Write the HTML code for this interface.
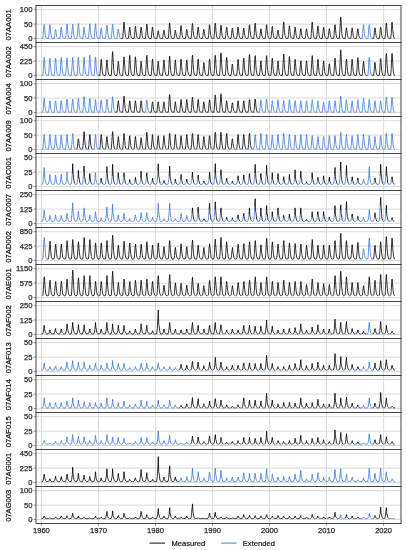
<!DOCTYPE html>
<html><head><meta charset="utf-8"><style>
html,body{margin:0;padding:0;background:#fff;}
svg{display:block;}
.t{font-family:"Liberation Sans",Arial,sans-serif;font-size:7.6px;fill:#2A2A2A;stroke:#2A2A2A;stroke-width:0.25px;}
.s{font-family:"Liberation Sans",Arial,sans-serif;font-size:7.6px;fill:#1A1A1A;stroke:#1A1A1A;stroke-width:0.25px;}
.l{font-family:"Liberation Sans",Arial,sans-serif;font-size:7.6px;fill:#111;stroke:#111;stroke-width:0.2px;}
</style></head><body>
<svg width="407" height="550" viewBox="0 0 407 550">
<rect width="407" height="550" fill="#fff"/>
<path d="M41.40 5.50V42.50M98.43 5.50V42.50M155.46 5.50V42.50M212.49 5.50V42.50M269.52 5.50V42.50M326.55 5.50V42.50M383.58 5.50V42.50M36.00 38.50H401.00M36.00 24.10H401.00M36.00 9.70H401.00" stroke="#D6D6D6" stroke-width="0.9" fill="none"/>
<path d="M41.4 38.4 42.8 38.3 43.3 34.2 43.7 27.9 44.0 24.9 44.3 24.4 44.5 26.3 44.8 30.7 45.3 34.9 45.8 37.4 46.5 38.3 47.1 38.4 48.5 38.3 49.0 34.3 49.4 28.1 49.7 25.2 50.0 24.7 50.2 26.6 50.5 30.8 51.0 34.9 51.6 37.4 52.2 38.3 52.8 38.4 54.2 38.3 54.7 35.7 55.1 31.8 55.4 29.9 55.7 29.6 55.9 30.8 56.2 33.5 56.7 36.2 57.3 37.7 57.9 38.3 58.5 38.4 59.9 38.3 60.4 34.9 60.8 29.8 61.1 27.4 61.4 27.0 61.6 28.6 61.9 32.1 62.4 35.5 63.0 37.6 63.6 38.3 64.2 38.4 65.6 38.3 66.1 34.1 66.6 27.7 66.8 24.7 67.1 24.1 67.3 26.1 67.6 30.5 68.1 34.8 68.7 37.4 69.3 38.3 69.9 38.4 71.3 38.3 71.8 34.1 72.3 27.7 72.5 24.7 72.8 24.1 73.0 26.1 73.3 30.5 73.8 34.8 74.4 37.4 75.0 38.3 75.6 38.4 77.0 38.3 77.5 33.9 78.0 27.2 78.2 24.1 78.5 23.5 78.7 25.6 79.0 30.2 79.5 34.6 80.1 37.3 80.8 38.3 81.3 38.4 82.7 38.3 83.2 34.9 83.7 29.8 83.9 27.4 84.2 27.0 84.4 28.6 84.7 32.1 85.2 35.5 85.8 37.6 86.5 38.3 87.0 38.4 88.4 38.3 88.9 34.0 89.4 27.4 89.6 24.4 89.9 23.8 90.1 25.8 90.4 30.4 90.9 34.7 91.5 37.3 92.2 38.3 92.7 38.4 94.2 38.3 94.6 34.0 95.1 27.4 95.4 24.4 95.6 23.8 95.8 25.8 96.1 30.4 96.6 34.7 97.2 37.3 97.9 38.3 98.4 38.4 99.9 38.3 100.3 35.2 100.8 30.5 101.1 28.3 101.3 27.8 101.5 29.3 101.9 32.6 102.3 35.7 102.9 37.6 103.6 38.3 104.1 38.4 105.6 38.3 106.0 34.3 106.5 28.3 106.8 25.5 107.0 25.0 107.2 26.8 107.6 31.0 108.0 35.0 108.6 37.4 109.3 38.3 109.8 38.4 111.3 38.3 111.7 34.1 112.2 27.7 112.5 24.7 112.7 24.1 112.9 26.1 113.3 30.5 113.7 34.8 114.3 37.4 115.0 38.3 115.5 38.4 117.0 38.3 117.4 35.5 117.9 31.3 118.2 29.4 118.4 29.0 118.6 30.3 119.0 33.2 119.4 36.0 120.0 37.7 120.7 38.3 121.2 38.4M125.7 37.2 126.4 38.3 126.9 38.4M360.8 38.4 362.2 38.3 362.6 34.3 363.1 28.1 363.4 25.2 363.6 24.7 363.8 26.6 364.2 30.8 364.6 34.9 365.2 37.4 365.9 38.3 366.5 38.4 367.9 38.3 368.4 34.3 368.8 28.1 369.1 25.2 369.3 24.7 369.6 26.6 369.9 30.8 370.3 34.9 370.9 37.4 371.6 38.3 372.2 38.4" stroke="#3C78D8" stroke-width="0.8" fill="none" stroke-linejoin="round"/>
<path d="M121.2 38.4 122.7 38.3 123.1 33.5 123.6 26.2 123.9 22.7 124.1 22.1 124.3 24.4 124.7 29.4 125.1 34.3 125.7 37.2M126.9 38.4 128.4 38.3 128.8 34.9 129.3 29.8 129.6 27.4 129.8 27.0 130.0 28.6 130.4 32.1 130.8 35.5 131.4 37.6 132.1 38.3 132.6 38.4 134.1 38.3 134.5 34.8 135.0 29.4 135.3 26.9 135.5 26.4 135.7 28.1 136.1 31.8 136.5 35.4 137.1 37.5 137.8 38.3 138.4 38.4 139.8 38.3 140.2 34.9 140.7 29.8 141.0 27.4 141.2 27.0 141.4 28.6 141.8 32.1 142.2 35.5 142.8 37.6 143.5 38.3 144.1 38.4 145.5 38.3 145.9 34.1 146.4 27.7 146.7 24.7 146.9 24.1 147.1 26.1 147.5 30.5 147.9 34.8 148.5 37.4 149.2 38.3 149.8 38.4 151.2 38.3 151.6 34.9 152.1 29.8 152.4 27.4 152.6 27.0 152.8 28.6 153.2 32.1 153.6 35.5 154.2 37.6 154.9 38.3 155.5 38.4 156.9 38.3 157.3 36.1 157.8 32.6 158.1 31.0 158.3 30.7 158.5 31.8 158.9 34.2 159.3 36.4 159.9 37.8 160.6 38.3 161.2 38.4 162.6 38.3 163.0 35.9 163.5 32.2 163.8 30.5 164.0 30.1 164.2 31.3 164.6 33.8 165.0 36.3 165.6 37.8 166.3 38.3 166.9 38.4 168.3 38.3 168.7 33.7 169.2 26.8 169.5 23.6 169.7 22.9 169.9 25.1 170.3 29.9 170.7 34.5 171.3 37.3 172.0 38.3 172.6 38.4 174.0 38.3 174.5 35.9 174.9 32.2 175.2 30.5 175.4 30.1 175.6 31.3 176.0 33.8 176.4 36.3 177.0 37.8 177.7 38.3 178.3 38.4 179.7 38.3 180.2 34.5 180.6 28.7 180.9 26.1 181.1 25.5 181.4 27.3 181.7 31.3 182.2 35.2 182.7 37.5 183.4 38.3 184.0 38.4 185.4 38.3 185.9 35.6 186.3 31.6 186.6 29.6 186.8 29.3 187.1 30.6 187.4 33.4 187.9 36.1 188.4 37.7 189.1 38.3 189.7 38.4 191.1 38.3 191.6 33.9 192.0 27.2 192.3 24.1 192.5 23.5 192.8 25.6 193.1 30.2 193.6 34.6 194.1 37.3 194.8 38.3 195.4 38.4 196.8 38.3 197.3 34.9 197.7 29.8 198.0 27.4 198.2 27.0 198.5 28.6 198.8 32.1 199.3 35.5 199.8 37.6 200.5 38.3 201.1 38.4 202.5 38.3 203.0 35.6 203.4 31.6 203.7 29.6 203.9 29.3 204.2 30.6 204.5 33.4 205.0 36.1 205.5 37.7 206.2 38.3 206.8 38.4 208.2 38.3 208.7 34.3 209.1 28.1 209.4 25.2 209.6 24.7 209.9 26.6 210.2 30.8 210.7 34.9 211.2 37.4 211.9 38.3 212.5 38.4 213.9 38.3 214.4 33.8 214.8 27.0 215.1 23.8 215.3 23.2 215.6 25.4 215.9 30.0 216.4 34.6 216.9 37.3 217.6 38.3 218.2 38.4 219.6 38.3 220.1 34.3 220.5 28.3 220.8 25.5 221.0 25.0 221.3 26.8 221.6 31.0 222.1 35.0 222.6 37.4 223.3 38.3 223.9 38.4 225.3 38.3 225.8 34.9 226.2 29.8 226.5 27.4 226.7 27.0 227.0 28.6 227.3 32.1 227.8 35.5 228.3 37.6 229.0 38.3 229.6 38.4 231.0 38.3 231.5 35.3 231.9 30.7 232.2 28.5 232.5 28.1 232.7 29.6 233.0 32.7 233.5 35.8 234.0 37.6 234.7 38.3 235.3 38.4 236.7 38.3 237.2 34.9 237.6 29.8 237.9 27.4 238.2 27.0 238.4 28.6 238.7 32.1 239.2 35.5 239.8 37.6 240.4 38.3 241.0 38.4 242.4 38.3 242.9 35.3 243.3 30.7 243.6 28.5 243.9 28.1 244.1 29.6 244.4 32.7 244.9 35.8 245.5 37.6 246.1 38.3 246.7 38.4 248.1 38.3 248.6 34.3 249.0 28.1 249.3 25.2 249.6 24.7 249.8 26.6 250.1 30.8 250.6 34.9 251.2 37.4 251.8 38.3 252.4 38.4 253.8 38.3 254.3 33.8 254.7 27.0 255.0 23.8 255.3 23.2 255.5 25.4 255.8 30.0 256.3 34.6 256.9 37.3 257.5 38.3 258.1 38.4 259.5 38.3 260.0 35.5 260.5 31.1 260.7 29.1 261.0 28.7 261.2 30.1 261.5 33.0 262.0 35.9 262.6 37.7 263.2 38.3 263.8 38.4 265.2 38.3 265.7 34.3 266.2 28.1 266.4 25.2 266.7 24.7 266.9 26.6 267.2 30.8 267.7 34.9 268.3 37.4 268.9 38.3 269.5 38.4 270.9 38.3 271.4 34.8 271.9 29.4 272.1 26.9 272.4 26.4 272.6 28.1 272.9 31.8 273.4 35.4 274.0 37.5 274.7 38.3 275.2 38.4 276.6 38.3 277.1 35.9 277.6 32.2 277.8 30.5 278.1 30.1 278.3 31.3 278.6 33.8 279.1 36.3 279.7 37.8 280.4 38.3 280.9 38.4 282.4 38.3 282.8 33.4 283.3 25.9 283.5 22.5 283.8 21.8 284.0 24.1 284.3 29.2 284.8 34.2 285.4 37.2 286.1 38.3 286.6 38.4 288.1 38.3 288.5 34.6 289.0 29.0 289.3 26.3 289.5 25.8 289.7 27.6 290.1 31.5 290.5 35.2 291.1 37.5 291.8 38.3 292.3 38.4 293.8 38.3 294.2 34.9 294.7 29.8 295.0 27.4 295.2 27.0 295.4 28.6 295.8 32.1 296.2 35.5 296.8 37.6 297.5 38.3 298.0 38.4 299.5 38.3 299.9 35.5 300.4 31.1 300.7 29.1 300.9 28.7 301.1 30.1 301.5 33.0 301.9 35.9 302.5 37.7 303.2 38.3 303.7 38.4 305.2 38.3 305.6 35.5 306.1 31.1 306.4 29.1 306.6 28.7 306.8 30.1 307.2 33.0 307.6 35.9 308.2 37.7 308.9 38.3 309.4 38.4 310.9 38.3 311.3 33.5 311.8 26.2 312.1 22.7 312.3 22.1 312.5 24.4 312.9 29.4 313.3 34.3 313.9 37.2 314.6 38.3 315.1 38.4 316.6 38.3 317.0 34.6 317.5 29.0 317.8 26.3 318.0 25.8 318.2 27.6 318.6 31.5 319.0 35.2 319.6 37.5 320.3 38.3 320.8 38.4 322.3 38.3 322.7 34.9 323.2 29.8 323.5 27.4 323.7 27.0 323.9 28.6 324.3 32.1 324.7 35.5 325.3 37.6 326.0 38.3 326.6 38.4 328.0 38.3 328.4 35.5 328.9 31.1 329.2 29.1 329.4 28.7 329.6 30.1 330.0 33.0 330.4 35.9 331.0 37.7 331.7 38.3 332.3 38.4 333.7 38.3 334.1 34.3 334.6 28.1 334.9 25.2 335.1 24.7 335.3 26.6 335.7 30.8 336.1 34.9 336.7 37.4 337.4 38.3 338.0 38.4 339.4 38.3 339.8 31.9 340.3 22.3 340.6 17.8 340.8 16.9 341.0 19.9 341.4 26.6 341.8 33.0 342.4 36.9 343.1 38.3 343.7 38.4 345.1 38.3 345.5 35.2 346.0 30.5 346.3 28.3 346.5 27.8 346.7 29.3 347.1 32.6 347.5 35.7 348.1 37.6 348.8 38.3 349.4 38.4 350.8 38.3 351.2 35.2 351.7 30.5 352.0 28.3 352.2 27.8 352.4 29.3 352.8 32.6 353.2 35.7 353.8 37.6 354.5 38.3 355.1 38.4 356.5 38.3 356.9 35.5 357.4 31.1 357.7 29.1 357.9 28.7 358.1 30.1 358.5 33.0 358.9 35.9 359.5 37.7 360.2 38.3 360.8 38.4M372.2 38.4 373.6 38.3 374.1 35.2 374.5 30.5 374.8 28.3 375.0 27.8 375.3 29.3 375.6 32.6 376.1 35.7 376.6 37.6 377.3 38.3 377.9 38.4 379.3 38.3 379.8 34.9 380.2 29.8 380.5 27.4 380.7 27.0 381.0 28.6 381.3 32.1 381.8 35.5 382.3 37.6 383.0 38.3 383.6 38.4 385.0 38.3 385.5 33.8 385.9 27.0 386.2 23.8 386.4 23.2 386.7 25.4 387.0 30.0 387.5 34.6 388.0 37.3 388.7 38.3 389.3 38.4 390.7 38.3 391.2 33.5 391.6 26.2 391.9 22.7 392.1 22.1 392.4 24.4 392.7 29.4 393.2 34.3 393.7 37.2 394.4 38.3 395.0 38.4" stroke="#000000" stroke-width="0.8" fill="none" stroke-linejoin="round"/>
<path d="M33.80 38.50H36.00" stroke="#333" stroke-width="0.55"/>
<text x="32.40" y="41.10" text-anchor="end" class="t">0</text>
<path d="M33.80 24.10H36.00" stroke="#333" stroke-width="0.55"/>
<text x="32.40" y="26.70" text-anchor="end" class="t">50</text>
<path d="M33.80 9.70H36.00" stroke="#333" stroke-width="0.55"/>
<text x="32.40" y="12.30" text-anchor="end" class="t">100</text>
<text transform="translate(10.8 24.80) rotate(-90)" text-anchor="middle" class="s">07AA001</text>
<path d="M41.40 42.50V79.50M98.43 42.50V79.50M155.46 42.50V79.50M212.49 42.50V79.50M269.52 42.50V79.50M326.55 42.50V79.50M383.58 42.50V79.50M36.00 75.50H401.00M36.00 61.10H401.00M36.00 46.70H401.00" stroke="#D6D6D6" stroke-width="0.9" fill="none"/>
<path d="M41.4 75.4 42.8 75.3 43.3 70.0 43.7 61.9 44.0 58.1 44.3 57.4 44.5 59.9 44.8 65.5 45.3 70.9 45.8 74.1 46.5 75.3 47.1 75.4 48.5 75.3 49.0 70.2 49.4 62.5 49.7 58.9 50.0 58.2 50.2 60.6 50.5 65.9 51.0 71.1 51.6 74.2 52.2 75.3 52.8 75.4 54.2 75.3 54.7 70.2 55.1 62.5 55.4 58.9 55.7 58.2 55.9 60.6 56.2 65.9 56.7 71.1 57.3 74.2 57.9 75.3 58.5 75.4 59.9 75.3 60.4 70.0 60.8 61.9 61.1 58.1 61.4 57.4 61.6 59.9 61.9 65.5 62.4 70.9 63.0 74.1 63.6 75.3 64.2 75.4 65.6 75.3 66.1 70.1 66.6 62.3 66.8 58.6 67.1 57.9 67.3 60.4 67.6 65.8 68.1 71.0 68.7 74.1 69.3 75.3 69.9 75.4 71.3 75.3 71.8 70.0 72.3 61.9 72.5 58.1 72.8 57.4 73.0 59.9 73.3 65.5 73.8 70.9 74.4 74.1 75.0 75.3 75.6 75.4 77.0 75.3 77.5 70.0 78.0 61.9 78.2 58.1 78.5 57.4 78.7 59.9 79.0 65.5 79.5 70.9 80.1 74.1 80.8 75.3 81.3 75.4 82.7 75.3 83.2 70.0 83.7 61.9 83.9 58.1 84.2 57.4 84.4 59.9 84.7 65.5 85.2 70.9 85.8 74.1 86.5 75.3 87.0 75.4 88.4 75.3 88.9 69.3 89.4 60.1 89.6 55.9 89.9 55.1 90.1 57.9 90.4 64.2 90.9 70.3 91.5 73.9 92.2 75.3 92.7 75.4 94.2 75.3 94.6 70.0 95.1 61.9 95.4 58.1 95.6 57.4 95.8 59.9 96.1 65.5 96.6 70.9 97.2 74.1 97.9 75.3 98.4 75.4M366.5 75.4 367.9 75.3 368.4 70.0 368.8 61.9 369.1 58.1 369.3 57.4 369.6 59.9 369.9 65.5 370.3 70.9 370.9 74.1 371.6 75.3 372.2 75.4" stroke="#3C78D8" stroke-width="0.8" fill="none" stroke-linejoin="round"/>
<path d="M98.4 75.4 99.9 75.3 100.3 70.6 100.8 63.4 101.1 60.0 101.3 59.4 101.5 61.6 101.9 66.6 102.3 71.4 102.9 74.2 103.6 75.3 104.1 75.4 105.6 75.3 106.0 70.7 106.5 63.8 106.8 60.6 107.0 59.9 107.2 62.1 107.6 66.9 108.0 71.5 108.6 74.3 109.3 75.3 109.8 75.4 111.3 75.3 111.7 68.2 112.2 57.5 112.5 52.5 112.7 51.6 112.9 54.9 113.3 62.3 113.7 69.4 114.3 73.7 115.0 75.3 115.5 75.4 117.0 75.3 117.4 71.2 117.9 64.9 118.2 61.9 118.4 61.4 118.6 63.3 119.0 67.7 119.4 71.9 120.0 74.4 120.7 75.3 121.2 75.4 122.7 75.3 123.1 69.8 123.6 61.4 123.9 57.5 124.1 56.8 124.3 59.4 124.7 65.1 125.1 70.7 125.7 74.1 126.4 75.3 126.9 75.4 128.4 75.3 128.8 69.4 129.3 60.3 129.6 56.1 129.8 55.3 130.0 58.1 130.4 64.3 130.8 70.4 131.4 74.0 132.1 75.3 132.6 75.4 134.1 75.3 134.5 69.8 135.0 61.4 135.3 57.5 135.5 56.8 135.7 59.4 136.1 65.1 136.5 70.7 137.1 74.1 137.8 75.3 138.4 75.4 139.8 75.3 140.2 71.2 140.7 64.9 141.0 61.9 141.2 61.4 141.4 63.3 141.8 67.7 142.2 71.9 142.8 74.4 143.5 75.3 144.1 75.4 145.5 75.3 145.9 69.4 146.4 60.3 146.7 56.1 146.9 55.3 147.1 58.1 147.5 64.3 147.9 70.4 148.5 74.0 149.2 75.3 149.8 75.4 151.2 75.3 151.6 70.5 152.1 63.2 152.4 59.7 152.6 59.1 152.8 61.4 153.2 66.4 153.6 71.3 154.2 74.2 154.9 75.3 155.5 75.4 156.9 75.3 157.3 71.2 157.8 64.9 158.1 61.9 158.3 61.4 158.5 63.3 158.9 67.7 159.3 71.9 159.9 74.4 160.6 75.3 161.2 75.4 162.6 75.3 163.0 70.7 163.5 63.8 163.8 60.6 164.0 59.9 164.2 62.1 164.6 66.9 165.0 71.5 165.6 74.3 166.3 75.3 166.9 75.4 168.3 75.3 168.7 69.6 169.2 61.0 169.5 57.0 169.7 56.2 169.9 58.9 170.3 64.8 170.7 70.6 171.3 74.0 172.0 75.3 172.6 75.4 174.0 75.3 174.5 70.7 174.9 63.8 175.2 60.6 175.4 59.9 175.6 62.1 176.0 66.9 176.4 71.5 177.0 74.3 177.7 75.3 178.3 75.4 179.7 75.3 180.2 70.5 180.6 63.2 180.9 59.7 181.1 59.1 181.4 61.4 181.7 66.4 182.2 71.3 182.7 74.2 183.4 75.3 184.0 75.4 185.4 75.3 185.9 70.7 186.3 63.8 186.6 60.6 186.8 59.9 187.1 62.1 187.4 66.9 187.9 71.5 188.4 74.3 189.1 75.3 189.7 75.4 191.1 75.3 191.6 69.4 192.0 60.3 192.3 56.1 192.5 55.3 192.8 58.1 193.1 64.3 193.6 70.4 194.1 74.0 194.8 75.3 195.4 75.4 196.8 75.3 197.3 70.5 197.7 63.2 198.0 59.7 198.2 59.1 198.5 61.4 198.8 66.4 199.3 71.3 199.8 74.2 200.5 75.3 201.1 75.4 202.5 75.3 203.0 71.5 203.4 65.7 203.7 63.1 203.9 62.5 204.2 64.3 204.5 68.3 205.0 72.2 205.5 74.5 206.2 75.3 206.8 75.4 208.2 75.3 208.7 70.5 209.1 63.2 209.4 59.7 209.6 59.1 209.9 61.4 210.2 66.4 210.7 71.3 211.2 74.2 211.9 75.3 212.5 75.4 213.9 75.3 214.4 69.4 214.8 60.3 215.1 56.1 215.3 55.3 215.6 58.1 215.9 64.3 216.4 70.4 216.9 74.0 217.6 75.3 218.2 75.4 219.6 75.3 220.1 68.7 220.5 58.6 220.8 53.9 221.0 53.0 221.3 56.2 221.6 63.1 222.1 69.8 222.6 73.8 223.3 75.3 223.9 75.4 225.3 75.3 225.8 70.0 226.2 61.9 226.5 58.1 226.7 57.4 227.0 59.9 227.3 65.5 227.8 70.9 228.3 74.1 229.0 75.3 229.6 75.4 231.0 75.3 231.5 71.9 231.9 66.8 232.2 64.4 232.5 64.0 232.7 65.6 233.0 69.1 233.5 72.5 234.0 74.6 234.7 75.3 235.3 75.4 236.7 75.3 237.2 70.6 237.6 63.4 237.9 60.0 238.2 59.4 238.4 61.6 238.7 66.6 239.2 71.4 239.8 74.2 240.4 75.3 241.0 75.4 242.4 75.3 242.9 70.2 243.3 62.5 243.6 58.9 243.9 58.2 244.1 60.6 244.4 65.9 244.9 71.1 245.5 74.2 246.1 75.3 246.7 75.4 248.1 75.3 248.6 69.1 249.0 59.7 249.3 55.3 249.6 54.5 249.8 57.4 250.1 63.9 250.6 70.1 251.2 73.9 251.8 75.3 252.4 75.4 253.8 75.3 254.3 69.4 254.7 60.6 255.0 56.4 255.3 55.6 255.5 58.4 255.8 64.5 256.3 70.4 256.9 74.0 257.5 75.3 258.1 75.4 259.5 75.3 260.0 71.0 260.5 64.4 260.7 61.4 261.0 60.8 261.2 62.8 261.5 67.4 262.0 71.7 262.6 74.3 263.2 75.3 263.8 75.4 265.2 75.3 265.7 69.4 266.2 60.6 266.4 56.4 266.7 55.6 266.9 58.4 267.2 64.5 267.7 70.4 268.3 74.0 268.9 75.3 269.5 75.4 270.9 75.3 271.4 70.2 271.9 62.5 272.1 58.9 272.4 58.2 272.6 60.6 272.9 65.9 273.4 71.1 274.0 74.2 274.7 75.3 275.2 75.4 276.6 75.3 277.1 71.0 277.6 64.4 277.8 61.4 278.1 60.8 278.3 62.8 278.6 67.4 279.1 71.7 279.7 74.3 280.4 75.3 280.9 75.4 282.4 75.3 282.8 69.0 283.3 59.5 283.5 55.0 283.8 54.2 284.0 57.2 284.3 63.7 284.8 70.1 285.4 73.9 286.1 75.3 286.6 75.4 288.1 75.3 288.5 69.7 289.0 61.2 289.3 57.2 289.5 56.5 289.7 59.1 290.1 65.0 290.5 70.6 291.1 74.0 291.8 75.3 292.3 75.4 293.8 75.3 294.2 70.6 294.7 63.4 295.0 60.0 295.2 59.4 295.4 61.6 295.8 66.6 296.2 71.4 296.8 74.2 297.5 75.3 298.0 75.4 299.5 75.3 299.9 71.0 300.4 64.4 300.7 61.4 300.9 60.8 301.1 62.8 301.5 67.4 301.9 71.7 302.5 74.3 303.2 75.3 303.7 75.4 305.2 75.3 305.6 71.0 306.1 64.4 306.4 61.4 306.6 60.8 306.8 62.8 307.2 67.4 307.6 71.7 308.2 74.3 308.9 75.3 309.4 75.4 310.9 75.3 311.3 69.4 311.8 60.6 312.1 56.4 312.3 55.6 312.5 58.4 312.9 64.5 313.3 70.4 313.9 74.0 314.6 75.3 315.1 75.4 316.6 75.3 317.0 70.6 317.5 63.4 317.8 60.0 318.0 59.4 318.2 61.6 318.6 66.6 319.0 71.4 319.6 74.2 320.3 75.3 320.8 75.4 322.3 75.3 322.7 71.0 323.2 64.4 323.5 61.4 323.7 60.8 323.9 62.8 324.3 67.4 324.7 71.7 325.3 74.3 326.0 75.3 326.6 75.4 328.0 75.3 328.4 71.9 328.9 66.6 329.2 64.2 329.4 63.7 329.6 65.3 330.0 68.9 330.4 72.4 331.0 74.5 331.7 75.3 332.3 75.4 333.7 75.3 334.1 70.2 334.6 62.5 334.9 58.9 335.1 58.2 335.3 60.6 335.7 65.9 336.1 71.1 336.7 74.2 337.4 75.3 338.0 75.4 339.4 75.3 339.8 67.7 340.3 56.2 340.6 50.9 340.8 49.9 341.0 53.4 341.4 61.3 341.8 69.0 342.4 73.6 343.1 75.3 343.7 75.4 345.1 75.3 345.5 70.5 346.0 63.2 346.3 59.7 346.5 59.1 346.7 61.4 347.1 66.4 347.5 71.3 348.1 74.2 348.8 75.3 349.4 75.4 350.8 75.3 351.2 70.5 351.7 63.2 352.0 59.7 352.2 59.1 352.4 61.4 352.8 66.4 353.2 71.3 353.8 74.2 354.5 75.3 355.1 75.4 356.5 75.3 356.9 70.0 357.4 62.1 357.7 58.4 357.9 57.6 358.1 60.1 358.5 65.6 358.9 70.9 359.5 74.1 360.2 75.3 360.8 75.4 362.2 75.3 362.6 71.2 363.1 64.9 363.4 61.9 363.6 61.4 363.8 63.3 364.2 67.7 364.6 71.9 365.2 74.4 365.9 75.3 366.5 75.4M372.2 75.4 373.6 75.3 374.1 71.4 374.5 65.5 374.8 62.8 375.0 62.3 375.3 64.1 375.6 68.1 376.1 72.1 376.6 74.4 377.3 75.3 377.9 75.4 379.3 75.3 379.8 70.3 380.2 62.7 380.5 59.2 380.7 58.5 381.0 60.9 381.3 66.1 381.8 71.1 382.3 74.2 383.0 75.3 383.6 75.4 385.0 75.3 385.5 68.7 385.9 58.8 386.2 54.2 386.4 53.3 386.7 56.4 387.0 63.2 387.5 69.8 388.0 73.8 388.7 75.3 389.3 75.4 390.7 75.3 391.2 68.7 391.6 58.8 391.9 54.2 392.1 53.3 392.4 56.4 392.7 63.2 393.2 69.8 393.7 73.8 394.4 75.3 395.0 75.4" stroke="#000000" stroke-width="0.8" fill="none" stroke-linejoin="round"/>
<path d="M33.80 75.50H36.00" stroke="#333" stroke-width="0.55"/>
<text x="32.40" y="78.10" text-anchor="end" class="t">0</text>
<path d="M33.80 61.10H36.00" stroke="#333" stroke-width="0.55"/>
<text x="32.40" y="63.70" text-anchor="end" class="t">225</text>
<path d="M33.80 46.70H36.00" stroke="#333" stroke-width="0.55"/>
<text x="32.40" y="49.30" text-anchor="end" class="t">450</text>
<text transform="translate(10.8 61.80) rotate(-90)" text-anchor="middle" class="s">07AA002</text>
<path d="M41.40 79.50V116.50M98.43 79.50V116.50M155.46 79.50V116.50M212.49 79.50V116.50M269.52 79.50V116.50M326.55 79.50V116.50M383.58 79.50V116.50M36.00 112.50H401.00M36.00 98.10H401.00M36.00 83.70H401.00" stroke="#D6D6D6" stroke-width="0.9" fill="none"/>
<path d="M41.4 112.2 42.8 112.1 43.3 108.1 43.7 101.8 44.0 98.9 44.3 98.4 44.5 100.3 44.8 104.6 45.3 108.8 45.8 111.2 46.5 112.1 47.1 112.2 48.5 112.1 49.0 108.8 49.4 103.6 49.7 101.2 50.0 100.7 50.2 102.3 50.5 105.9 51.0 109.3 51.6 111.4 52.2 112.1 52.8 112.2 54.2 112.1 54.7 108.8 55.1 103.6 55.4 101.2 55.7 100.7 55.9 102.3 56.2 105.9 56.7 109.3 57.3 111.4 57.9 112.1 58.5 112.2 59.9 112.1 60.4 108.8 60.8 103.6 61.1 101.2 61.4 100.7 61.6 102.3 61.9 105.9 62.4 109.3 63.0 111.4 63.6 112.1 64.2 112.2 65.6 112.1 66.1 108.2 66.6 102.3 66.8 99.5 67.1 99.0 67.3 100.8 67.6 104.9 68.1 108.9 68.7 111.3 69.3 112.1 69.9 112.2 71.3 112.1 71.8 108.2 72.3 102.3 72.5 99.5 72.8 99.0 73.0 100.8 73.3 104.9 73.8 108.9 74.4 111.3 75.0 112.1 75.6 112.2 77.0 112.1 77.5 108.1 78.0 101.8 78.2 98.9 78.5 98.4 78.7 100.3 79.0 104.6 79.5 108.8 80.1 111.2 80.8 112.1 81.3 112.2 82.7 112.1 83.2 107.5 83.7 100.5 83.9 97.3 84.2 96.7 84.4 98.8 84.7 103.7 85.2 108.3 85.8 111.1 86.5 112.1 87.0 112.2 88.4 112.1 88.9 108.1 89.4 101.8 89.6 98.9 89.9 98.4 90.1 100.3 90.4 104.6 90.9 108.8 91.5 111.2 92.2 112.1 92.7 112.2 94.2 112.1 94.6 108.4 95.1 102.7 95.4 100.0 95.6 99.5 95.8 101.3 96.1 105.2 96.6 109.0 97.2 111.3 97.9 112.1 98.4 112.2 99.9 112.1 100.3 108.5 100.8 102.9 101.1 100.3 101.3 99.8 101.5 101.6 101.9 105.4 102.3 109.1 102.9 111.3 103.6 112.1 104.1 112.2 105.6 112.1 106.0 108.2 106.5 102.3 106.8 99.5 107.0 99.0 107.2 100.8 107.6 104.9 108.0 108.9 108.6 111.3 109.3 112.1 109.8 112.2 111.3 112.1 111.7 107.5 112.2 100.5 112.5 97.3 112.7 96.7 112.9 98.8 113.3 103.7 113.7 108.3 114.3 111.1 115.0 112.1 115.5 112.2M144.1 112.2 145.5 112.1 145.9 108.5 146.4 102.9 146.7 100.3 146.9 99.8 147.1 101.6 147.5 105.4 147.9 109.1 148.5 111.3 149.2 112.1 149.8 112.2M258.1 112.2 259.5 112.1 260.0 108.5 260.5 102.9 260.7 100.3 261.0 99.8 261.2 101.6 261.5 105.4 262.0 109.1 262.6 111.3 263.2 112.1 263.8 112.2 265.2 112.1 265.7 108.2 266.2 102.3 266.4 99.5 266.7 99.0 266.9 100.8 267.2 104.9 267.7 108.9 268.3 111.3 268.9 112.1 269.5 112.2 270.9 112.1 271.4 108.8 271.9 103.6 272.1 101.2 272.4 100.7 272.6 102.3 272.9 105.9 273.4 109.3 274.0 111.4 274.7 112.1 275.2 112.2 276.6 112.1 277.1 108.5 277.6 102.9 277.8 100.3 278.1 99.8 278.3 101.6 278.6 105.4 279.1 109.1 279.7 111.3 280.4 112.1 280.9 112.2 282.4 112.1 282.8 108.8 283.3 103.6 283.5 101.2 283.8 100.7 284.0 102.3 284.3 105.9 284.8 109.3 285.4 111.4 286.1 112.1 286.6 112.2 288.1 112.1 288.5 108.5 289.0 102.9 289.3 100.3 289.5 99.8 289.7 101.6 290.1 105.4 290.5 109.1 291.1 111.3 291.8 112.1 292.3 112.2 293.8 112.1 294.2 108.8 294.7 103.6 295.0 101.2 295.2 100.7 295.4 102.3 295.8 105.9 296.2 109.3 296.8 111.4 297.5 112.1 298.0 112.2 299.5 112.1 299.9 108.8 300.4 103.6 300.7 101.2 300.9 100.7 301.1 102.3 301.5 105.9 301.9 109.3 302.5 111.4 303.2 112.1 303.7 112.2 305.2 112.1 305.6 108.8 306.1 103.6 306.4 101.2 306.6 100.7 306.8 102.3 307.2 105.9 307.6 109.3 308.2 111.4 308.9 112.1 309.4 112.2 310.9 112.1 311.3 108.5 311.8 102.9 312.1 100.3 312.3 99.8 312.5 101.6 312.9 105.4 313.3 109.1 313.9 111.3 314.6 112.1 315.1 112.2 316.6 112.1 317.0 108.8 317.5 103.6 317.8 101.2 318.0 100.7 318.2 102.3 318.6 105.9 319.0 109.3 319.6 111.4 320.3 112.1 320.8 112.2 322.3 112.1 322.7 109.1 323.2 104.4 323.5 102.3 323.7 101.8 323.9 103.3 324.3 106.5 324.7 109.6 325.3 111.5 326.0 112.1 326.6 112.2 328.0 112.1 328.4 108.8 328.9 103.6 329.2 101.2 329.4 100.7 329.6 102.3 330.0 105.9 330.4 109.3 331.0 111.4 331.7 112.1 332.3 112.2 333.7 112.1 334.1 108.8 334.6 103.6 334.9 101.2 335.1 100.7 335.3 102.3 335.7 105.9 336.1 109.3 336.7 111.4 337.4 112.1 338.0 112.2 339.4 112.1 339.8 107.4 340.3 100.1 340.6 96.7 340.8 96.1 341.0 98.3 341.4 103.3 341.8 108.2 342.4 111.1 343.1 112.1 343.7 112.2 345.1 112.1 345.5 108.5 346.0 102.9 346.3 100.3 346.5 99.8 346.7 101.6 347.1 105.4 347.5 109.1 348.1 111.3 348.8 112.1 349.4 112.2 350.8 112.1 351.2 108.8 351.7 103.6 352.0 101.2 352.2 100.7 352.4 102.3 352.8 105.9 353.2 109.3 353.8 111.4 354.5 112.1 355.1 112.2 356.5 112.1 356.9 108.5 357.4 102.9 357.7 100.3 357.9 99.8 358.1 101.6 358.5 105.4 358.9 109.1 359.5 111.3 360.2 112.1 360.8 112.2 362.2 112.1 362.6 108.1 363.1 101.8 363.4 98.9 363.6 98.4 363.8 100.3 364.2 104.6 364.6 108.8 365.2 111.2 365.9 112.1 366.5 112.2 367.9 112.1 368.4 108.4 368.8 102.7 369.1 100.0 369.3 99.5 369.6 101.3 369.9 105.2 370.3 109.0 370.9 111.3 371.6 112.1 372.2 112.2 373.6 112.1 374.1 108.8 374.5 103.6 374.8 101.2 375.0 100.7 375.3 102.3 375.6 105.9 376.1 109.3 376.6 111.4 377.3 112.1 377.9 112.2 379.3 112.1 379.8 108.8 380.2 103.6 380.5 101.2 380.7 100.7 381.0 102.3 381.3 105.9 381.8 109.3 382.3 111.4 383.0 112.1 383.6 112.2 385.0 112.1 385.5 107.7 385.9 101.0 386.2 97.8 386.4 97.2 386.7 99.3 387.0 104.0 387.5 108.5 388.0 111.2 388.7 112.1 389.3 112.2 390.7 112.1 391.2 107.7 391.6 101.0 391.9 97.8 392.1 97.2 392.4 99.3 392.7 104.0 393.2 108.5 393.7 111.2 394.4 112.1 395.0 112.2" stroke="#3C78D8" stroke-width="0.8" fill="none" stroke-linejoin="round"/>
<path d="M115.5 112.2 117.0 112.1 117.4 108.8 117.9 103.6 118.2 101.2 118.4 100.7 118.6 102.3 119.0 105.9 119.4 109.3 120.0 111.4 120.7 112.1 121.2 112.2 122.7 112.1 123.1 107.4 123.6 100.1 123.9 96.7 124.1 96.1 124.3 98.3 124.7 103.3 125.1 108.2 125.7 111.1 126.4 112.1 126.9 112.2 128.4 112.1 128.8 108.8 129.3 103.6 129.6 101.2 129.8 100.7 130.0 102.3 130.4 105.9 130.8 109.3 131.4 111.4 132.1 112.1 132.6 112.2 134.1 112.1 134.5 108.8 135.0 103.6 135.3 101.2 135.5 100.7 135.7 102.3 136.1 105.9 136.5 109.3 137.1 111.4 137.8 112.1 138.4 112.2 139.8 112.1 140.2 108.8 140.7 103.6 141.0 101.2 141.2 100.7 141.4 102.3 141.8 105.9 142.2 109.3 142.8 111.4 143.5 112.1 144.1 112.2M149.8 112.2 151.2 112.1 151.6 109.1 152.1 104.4 152.4 102.3 152.6 101.8 152.8 103.3 153.2 106.5 153.6 109.6 154.2 111.5 154.9 112.1 155.5 112.2 156.9 112.1 157.3 109.1 157.8 104.4 158.1 102.3 158.3 101.8 158.5 103.3 158.9 106.5 159.3 109.6 159.9 111.5 160.6 112.1 161.2 112.2 162.6 112.1 163.0 109.1 163.5 104.4 163.8 102.3 164.0 101.8 164.2 103.3 164.6 106.5 165.0 109.6 165.6 111.5 166.3 112.1 166.9 112.2 168.3 112.1 168.7 106.9 169.2 98.8 169.5 95.1 169.7 94.4 169.9 96.9 170.3 102.4 170.7 107.7 171.3 111.0 172.0 112.1 172.6 112.2 174.0 112.1 174.5 109.1 174.9 104.4 175.2 102.3 175.4 101.8 175.6 103.3 176.0 106.5 176.4 109.6 177.0 111.5 177.7 112.1 178.3 112.2 179.7 112.1 180.2 108.4 180.6 102.7 180.9 100.0 181.1 99.5 181.4 101.3 181.7 105.2 182.2 109.0 182.7 111.3 183.4 112.1 184.0 112.2 185.4 112.1 185.9 108.4 186.3 102.7 186.6 100.0 186.8 99.5 187.1 101.3 187.4 105.2 187.9 109.0 188.4 111.3 189.1 112.1 189.7 112.2 191.1 112.1 191.6 107.7 192.0 101.0 192.3 97.8 192.5 97.2 192.8 99.3 193.1 104.0 193.6 108.5 194.1 111.2 194.8 112.1 195.4 112.2 196.8 112.1 197.3 108.4 197.7 102.7 198.0 100.0 198.2 99.5 198.5 101.3 198.8 105.2 199.3 109.0 199.8 111.3 200.5 112.1 201.1 112.2 202.5 112.1 203.0 109.1 203.4 104.4 203.7 102.3 203.9 101.8 204.2 103.3 204.5 106.5 205.0 109.6 205.5 111.5 206.2 112.1 206.8 112.2 208.2 112.1 208.7 108.5 209.1 102.9 209.4 100.3 209.6 99.8 209.9 101.6 210.2 105.4 210.7 109.1 211.2 111.3 211.9 112.1 212.5 112.2 213.9 112.1 214.4 107.0 214.8 99.3 215.1 95.6 215.3 94.9 215.6 97.4 215.9 102.7 216.4 107.9 216.9 111.0 217.6 112.1 218.2 112.2 219.6 112.1 220.1 106.7 220.5 98.4 220.8 94.5 221.0 93.8 221.3 96.4 221.6 102.1 222.1 107.6 222.6 110.9 223.3 112.1 223.9 112.2 225.3 112.1 225.8 108.8 226.2 103.6 226.5 101.2 226.7 100.7 227.0 102.3 227.3 105.9 227.8 109.3 228.3 111.4 229.0 112.1 229.6 112.2 231.0 112.1 231.5 109.4 231.9 105.1 232.2 103.1 232.5 102.7 232.7 104.0 233.0 107.0 233.5 109.8 234.0 111.5 234.7 112.1 235.3 112.2 236.7 112.1 237.2 108.8 237.6 103.6 237.9 101.2 238.2 100.7 238.4 102.3 238.7 105.9 239.2 109.3 239.8 111.4 240.4 112.1 241.0 112.2 242.4 112.1 242.9 108.8 243.3 103.6 243.6 101.2 243.9 100.7 244.1 102.3 244.4 105.9 244.9 109.3 245.5 111.4 246.1 112.1 246.7 112.2 248.1 112.1 248.6 108.4 249.0 102.7 249.3 100.0 249.6 99.5 249.8 101.3 250.1 105.2 250.6 109.0 251.2 111.3 251.8 112.1 252.4 112.2 253.8 112.1 254.3 108.2 254.7 102.3 255.0 99.5 255.3 99.0 255.5 100.8 255.8 104.9 256.3 108.9 256.9 111.3 257.5 112.1 258.1 112.2" stroke="#000000" stroke-width="0.8" fill="none" stroke-linejoin="round"/>
<path d="M33.80 112.50H36.00" stroke="#333" stroke-width="0.55"/>
<text x="32.40" y="115.10" text-anchor="end" class="t">0</text>
<path d="M33.80 98.10H36.00" stroke="#333" stroke-width="0.55"/>
<text x="32.40" y="100.70" text-anchor="end" class="t">50</text>
<path d="M33.80 83.70H36.00" stroke="#333" stroke-width="0.55"/>
<text x="32.40" y="86.30" text-anchor="end" class="t">100</text>
<text transform="translate(10.8 98.80) rotate(-90)" text-anchor="middle" class="s">07AA004</text>
<path d="M41.40 116.50V153.50M98.43 116.50V153.50M155.46 116.50V153.50M212.49 116.50V153.50M269.52 116.50V153.50M326.55 116.50V153.50M383.58 116.50V153.50M36.00 149.50H401.00M36.00 135.10H401.00M36.00 120.70H401.00" stroke="#D6D6D6" stroke-width="0.9" fill="none"/>
<path d="M41.4 149.2 42.8 149.1 43.3 144.8 43.7 138.2 44.0 135.1 44.3 134.5 44.5 136.6 44.8 141.1 45.3 145.5 45.8 148.2 46.5 149.1 47.1 149.2 48.5 149.1 49.0 144.8 49.4 138.2 49.7 135.1 50.0 134.5 50.2 136.6 50.5 141.1 51.0 145.5 51.6 148.2 52.2 149.1 52.8 149.2 54.2 149.1 54.7 145.0 55.1 138.6 55.4 135.7 55.7 135.1 55.9 137.1 56.2 141.5 56.7 145.7 57.3 148.2 57.9 149.1 58.5 149.2 59.9 149.1 60.4 145.0 60.8 138.6 61.1 135.7 61.4 135.1 61.6 137.1 61.9 141.5 62.4 145.7 63.0 148.2 63.6 149.1 64.2 149.2 65.6 149.1 66.1 144.8 66.6 138.2 66.8 135.1 67.1 134.5 67.3 136.6 67.6 141.1 68.1 145.5 68.7 148.2 69.3 149.1 69.9 149.2 71.3 149.1 71.8 144.5 72.3 137.3 72.5 134.0 72.8 133.4 73.0 135.6 73.3 140.5 73.8 145.3 74.4 148.1 75.0 149.1 75.6 149.2 77.0 149.1M80.8 149.1 81.3 149.2 82.7 149.1M86.5 149.1 87.0 149.2 88.4 149.1M92.2 149.1 92.7 149.2 94.2 149.1 94.6 144.8 95.1 138.2 95.4 135.1 95.6 134.5 95.8 136.6 96.1 141.1 96.6 145.5 97.2 148.2 97.9 149.1 98.4 149.2 99.9 149.1M103.6 149.1 104.1 149.2 105.6 149.1M109.3 149.1 109.8 149.2 111.3 149.1M115.0 149.1 115.5 149.2 117.0 149.1M120.7 149.1 121.2 149.2 122.7 149.1M126.4 149.1 126.9 149.2 128.4 149.1M132.1 149.1 132.6 149.2 134.1 149.1M137.8 149.1 138.4 149.2 139.8 149.1M143.5 149.1 144.1 149.2 145.5 149.1M149.2 149.1 149.8 149.2 151.2 149.1M154.9 149.1 155.5 149.2 156.9 149.1M160.6 149.1 161.2 149.2 162.6 149.1M166.3 149.1 166.9 149.2 168.3 149.1M172.0 149.1 172.6 149.2 174.0 149.1M177.7 149.1 178.3 149.2 179.7 149.1M183.4 149.1 184.0 149.2 185.4 149.1M189.1 149.1 189.7 149.2 191.1 149.1M194.8 149.1 195.4 149.2 196.8 149.1M200.5 149.1 201.1 149.2 202.5 149.1M206.2 149.1 206.8 149.2 208.2 149.1M211.9 149.1 212.5 149.2 213.9 149.1M217.6 149.1 218.2 149.2 219.6 149.1M223.3 149.1 223.9 149.2 225.3 149.1M229.0 149.1 229.6 149.2 231.0 149.1M234.7 149.1 235.3 149.2 236.7 149.1M240.4 149.1 241.0 149.2 242.4 149.1M246.1 149.1 246.7 149.2 248.1 149.1M251.8 149.1 252.4 149.2 253.8 149.1 254.3 144.8 254.7 138.2 255.0 135.1 255.3 134.5 255.5 136.6 255.8 141.1 256.3 145.5 256.9 148.2 257.5 149.1 258.1 149.2 259.5 149.1 260.0 144.5 260.5 137.3 260.7 134.0 261.0 133.4 261.2 135.6 261.5 140.5 262.0 145.3 262.6 148.1 263.2 149.1 263.8 149.2 265.2 149.1 265.7 144.8 266.2 138.2 266.4 135.1 266.7 134.5 266.9 136.6 267.2 141.1 267.7 145.5 268.3 148.2 268.9 149.1 269.5 149.2 270.9 149.1 271.4 145.0 271.9 138.6 272.1 135.7 272.4 135.1 272.6 137.1 272.9 141.5 273.4 145.7 274.0 148.2 274.7 149.1 275.2 149.2 276.6 149.1 277.1 144.8 277.6 138.2 277.8 135.1 278.1 134.5 278.3 136.6 278.6 141.1 279.1 145.5 279.7 148.2 280.4 149.1 280.9 149.2 282.4 149.1 282.8 144.5 283.3 137.3 283.5 134.0 283.8 133.4 284.0 135.6 284.3 140.5 284.8 145.3 285.4 148.1 286.1 149.1 286.6 149.2 288.1 149.1 288.5 144.8 289.0 138.2 289.3 135.1 289.5 134.5 289.7 136.6 290.1 141.1 290.5 145.5 291.1 148.2 291.8 149.1 292.3 149.2 293.8 149.1 294.2 145.0 294.7 138.6 295.0 135.7 295.2 135.1 295.4 137.1 295.8 141.5 296.2 145.7 296.8 148.2 297.5 149.1 298.0 149.2 299.5 149.1 299.9 144.8 300.4 138.2 300.7 135.1 300.9 134.5 301.1 136.6 301.5 141.1 301.9 145.5 302.5 148.2 303.2 149.1 303.7 149.2 305.2 149.1 305.6 144.8 306.1 138.2 306.4 135.1 306.6 134.5 306.8 136.6 307.2 141.1 307.6 145.5 308.2 148.2 308.9 149.1 309.4 149.2 310.9 149.1 311.3 145.2 311.8 139.1 312.1 136.2 312.3 135.7 312.5 137.6 312.9 141.8 313.3 145.8 313.9 148.3 314.6 149.1 315.1 149.2 316.6 149.1 317.0 145.4 317.5 139.7 317.8 137.0 318.0 136.5 318.2 138.3 318.6 142.2 319.0 146.0 319.6 148.3 320.3 149.1 320.8 149.2 322.3 149.1 322.7 145.4 323.2 139.7 323.5 137.0 323.7 136.5 323.9 138.3 324.3 142.2 324.7 146.0 325.3 148.3 326.0 149.1 326.6 149.2 328.0 149.1 328.4 145.2 328.9 139.1 329.2 136.2 329.4 135.7 329.6 137.6 330.0 141.8 330.4 145.8 331.0 148.3 331.7 149.1 332.3 149.2 333.7 149.1 334.1 145.2 334.6 139.1 334.9 136.2 335.1 135.7 335.3 137.6 335.7 141.8 336.1 145.8 336.7 148.3 337.4 149.1 338.0 149.2 339.4 149.1 339.8 144.1 340.3 136.5 340.6 132.9 340.8 132.2 341.0 134.6 341.4 139.9 341.8 145.0 342.4 148.0 343.1 149.1 343.7 149.2 345.1 149.1 345.5 144.8 346.0 138.2 346.3 135.1 346.5 134.5 346.7 136.6 347.1 141.1 347.5 145.5 348.1 148.2 348.8 149.1 349.4 149.2 350.8 149.1 351.2 145.2 351.7 139.1 352.0 136.2 352.2 135.7 352.4 137.6 352.8 141.8 353.2 145.8 353.8 148.3 354.5 149.1 355.1 149.2 356.5 149.1 356.9 144.8 357.4 138.2 357.7 135.1 357.9 134.5 358.1 136.6 358.5 141.1 358.9 145.5 359.5 148.2 360.2 149.1 360.8 149.2 362.2 149.1 362.6 144.8 363.1 138.2 363.4 135.1 363.6 134.5 363.8 136.6 364.2 141.1 364.6 145.5 365.2 148.2 365.9 149.1 366.5 149.2 367.9 149.1 368.4 145.2 368.8 139.1 369.1 136.2 369.3 135.7 369.6 137.6 369.9 141.8 370.3 145.8 370.9 148.3 371.6 149.1 372.2 149.2 373.6 149.1 374.1 145.4 374.5 139.7 374.8 137.0 375.0 136.5 375.3 138.3 375.6 142.2 376.1 146.0 376.6 148.3 377.3 149.1 377.9 149.2 379.3 149.1 379.8 145.2 380.2 139.1 380.5 136.2 380.7 135.7 381.0 137.6 381.3 141.8 381.8 145.8 382.3 148.3 383.0 149.1 383.6 149.2 385.0 149.1 385.5 144.5 385.9 137.3 386.2 134.0 386.4 133.4 386.7 135.6 387.0 140.5 387.5 145.3 388.0 148.1 388.7 149.1 389.3 149.2 390.7 149.1 391.2 144.5 391.6 137.3 391.9 134.0 392.1 133.4 392.4 135.6 392.7 140.5 393.2 145.3 393.7 148.1 394.4 149.1 395.0 149.2" stroke="#3C78D8" stroke-width="0.8" fill="none" stroke-linejoin="round"/>
<path d="M77.0 149.1 77.5 146.1 78.0 141.4 78.2 139.3 78.5 138.8 78.7 140.3 79.0 143.5 79.5 146.6 80.1 148.5 80.8 149.1M82.7 149.1 83.2 143.9 83.7 136.0 83.9 132.3 84.2 131.6 84.4 134.1 84.7 139.5 85.2 144.8 85.8 148.0 86.5 149.1M88.4 149.1 88.9 144.8 89.4 138.2 89.6 135.1 89.9 134.5 90.1 136.6 90.4 141.1 90.9 145.5 91.5 148.2 92.2 149.1M99.9 149.1 100.3 144.8 100.8 138.2 101.1 135.1 101.3 134.5 101.5 136.6 101.9 141.1 102.3 145.5 102.9 148.2 103.6 149.1M105.6 149.1 106.0 145.4 106.5 139.7 106.8 137.0 107.0 136.5 107.2 138.3 107.6 142.2 108.0 146.0 108.6 148.3 109.3 149.1M111.3 149.1 111.7 143.9 112.2 136.0 112.5 132.3 112.7 131.6 112.9 134.1 113.3 139.5 113.7 144.8 114.3 148.0 115.0 149.1M117.0 149.1 117.4 145.4 117.9 139.7 118.2 137.0 118.4 136.5 118.6 138.3 119.0 142.2 119.4 146.0 120.0 148.3 120.7 149.1M122.7 149.1 123.1 144.5 123.6 137.3 123.9 134.0 124.1 133.4 124.3 135.6 124.7 140.5 125.1 145.3 125.7 148.1 126.4 149.1M128.4 149.1 128.8 145.2 129.3 139.1 129.6 136.2 129.8 135.7 130.0 137.6 130.4 141.8 130.8 145.8 131.4 148.3 132.1 149.1M134.1 149.1 134.5 145.4 135.0 139.7 135.3 137.0 135.5 136.5 135.7 138.3 136.1 142.2 136.5 146.0 137.1 148.3 137.8 149.1M139.8 149.1 140.2 145.8 140.7 140.6 141.0 138.2 141.2 137.7 141.4 139.3 141.8 142.9 142.2 146.3 142.8 148.4 143.5 149.1M145.5 149.1 145.9 144.1 146.4 136.5 146.7 132.9 146.9 132.2 147.1 134.6 147.5 139.9 147.9 145.0 148.5 148.0 149.2 149.1M151.2 149.1 151.6 144.8 152.1 138.2 152.4 135.1 152.6 134.5 152.8 136.6 153.2 141.1 153.6 145.5 154.2 148.2 154.9 149.1M156.9 149.1 157.3 145.2 157.8 139.1 158.1 136.2 158.3 135.7 158.5 137.6 158.9 141.8 159.3 145.8 159.9 148.3 160.6 149.1M162.6 149.1 163.0 145.2 163.5 139.1 163.8 136.2 164.0 135.7 164.2 137.6 164.6 141.8 165.0 145.8 165.6 148.3 166.3 149.1M168.3 149.1 168.7 144.5 169.2 137.3 169.5 134.0 169.7 133.4 169.9 135.6 170.3 140.5 170.7 145.3 171.3 148.1 172.0 149.1M174.0 149.1 174.5 144.8 174.9 138.2 175.2 135.1 175.4 134.5 175.6 136.6 176.0 141.1 176.4 145.5 177.0 148.2 177.7 149.1M179.7 149.1 180.2 145.2 180.6 139.1 180.9 136.2 181.1 135.7 181.4 137.6 181.7 141.8 182.2 145.8 182.7 148.3 183.4 149.1M185.4 149.1 185.9 144.8 186.3 138.2 186.6 135.1 186.8 134.5 187.1 136.6 187.4 141.1 187.9 145.5 188.4 148.2 189.1 149.1M191.1 149.1 191.6 144.5 192.0 137.3 192.3 134.0 192.5 133.4 192.8 135.6 193.1 140.5 193.6 145.3 194.1 148.1 194.8 149.1M196.8 149.1 197.3 144.8 197.7 138.2 198.0 135.1 198.2 134.5 198.5 136.6 198.8 141.1 199.3 145.5 199.8 148.2 200.5 149.1M202.5 149.1 203.0 145.4 203.4 139.7 203.7 137.0 203.9 136.5 204.2 138.3 204.5 142.2 205.0 146.0 205.5 148.3 206.2 149.1M208.2 149.1 208.7 145.2 209.1 139.1 209.4 136.2 209.6 135.7 209.9 137.6 210.2 141.8 210.7 145.8 211.2 148.3 211.9 149.1M213.9 149.1 214.4 144.1 214.8 136.5 215.1 132.9 215.3 132.2 215.6 134.6 215.9 139.9 216.4 145.0 216.9 148.0 217.6 149.1M219.6 149.1 220.1 144.1 220.5 136.5 220.8 132.9 221.0 132.2 221.3 134.6 221.6 139.9 222.1 145.0 222.6 148.0 223.3 149.1M225.3 149.1 225.8 144.5 226.2 137.3 226.5 134.0 226.7 133.4 227.0 135.6 227.3 140.5 227.8 145.3 228.3 148.1 229.0 149.1M231.0 149.1 231.5 146.1 231.9 141.4 232.2 139.3 232.5 138.8 232.7 140.3 233.0 143.5 233.5 146.6 234.0 148.5 234.7 149.1M236.7 149.1 237.2 144.8 237.6 138.2 237.9 135.1 238.2 134.5 238.4 136.6 238.7 141.1 239.2 145.5 239.8 148.2 240.4 149.1M242.4 149.1 242.9 144.8 243.3 138.2 243.6 135.1 243.9 134.5 244.1 136.6 244.4 141.1 244.9 145.5 245.5 148.2 246.1 149.1M248.1 149.1 248.6 144.5 249.0 137.3 249.3 134.0 249.6 133.4 249.8 135.6 250.1 140.5 250.6 145.3 251.2 148.1 251.8 149.1" stroke="#000000" stroke-width="0.8" fill="none" stroke-linejoin="round"/>
<path d="M33.80 149.50H36.00" stroke="#333" stroke-width="0.55"/>
<text x="32.40" y="152.10" text-anchor="end" class="t">0</text>
<path d="M33.80 135.10H36.00" stroke="#333" stroke-width="0.55"/>
<text x="32.40" y="137.70" text-anchor="end" class="t">50</text>
<path d="M33.80 120.70H36.00" stroke="#333" stroke-width="0.55"/>
<text x="32.40" y="123.30" text-anchor="end" class="t">100</text>
<text transform="translate(10.8 135.80) rotate(-90)" text-anchor="middle" class="s">07AA009</text>
<path d="M41.40 153.50V190.50M98.43 153.50V190.50M155.46 153.50V190.50M212.49 153.50V190.50M269.52 153.50V190.50M326.55 153.50V190.50M383.58 153.50V190.50M36.00 186.50H401.00M36.00 172.10H401.00M36.00 157.70H401.00" stroke="#D6D6D6" stroke-width="0.9" fill="none"/>
<path d="M41.4 184.5 42.7 184.0 43.2 180.3 43.7 173.4 44.2 167.5 44.6 175.0 45.0 179.3 45.5 182.2 46.1 183.5 46.6 184.5 47.1 184.5 48.4 184.0 48.9 182.2 49.4 180.3 49.9 174.4 50.3 180.3 50.7 180.3 51.2 183.3 51.8 183.9 52.3 184.5 52.8 184.5 54.1 184.0 54.6 182.7 55.1 178.9 55.6 175.0 56.0 178.9 56.4 181.0 56.9 183.1 57.5 184.1 58.1 184.5 58.5 184.5 59.8 184.0 60.3 182.3 60.8 178.6 61.3 174.4 61.7 179.7 62.1 181.0 62.6 182.9 63.2 184.0 63.8 184.5 64.2 184.5 65.5 184.0 66.0 182.4 66.6 177.4 67.0 172.1 67.4 179.5 67.8 179.9 68.3 182.3 68.9 183.8 69.5 184.5 69.9 184.5 71.2 184.0 71.7 180.9 72.3 173.6M74.6 183.6 75.2 184.5 75.6 184.5 76.9 184.0 77.4 181.2 78.0 178.5M80.3 183.7 80.9 184.5 81.3 184.5 82.6 184.0 83.1 180.0 83.7 171.8M86.0 183.6 86.6 184.5 87.0 184.5 88.3 184.0 88.8 182.7 89.4 179.5M91.7 184.1 92.3 184.5 92.7 184.5 94.0 184.0 94.6 181.8 95.1 178.8 95.5 172.7 95.9 179.8 96.3 180.1 96.8 182.5 97.4 183.9 98.0 184.5 98.4 184.5 99.7 184.0 100.3 183.2 100.8 180.9M103.1 184.1 103.7 184.5 104.1 184.5 105.4 184.0 106.0 180.3 106.5 172.7M108.8 183.5 109.4 184.5 109.8 184.5 111.1 184.0 111.7 180.3 112.2 176.0M114.5 183.5 115.1 184.5 115.5 184.5 116.8 184.0 117.4 182.6 117.9 177.7M120.2 184.0 120.8 184.5 121.2 184.5 122.5 184.0 123.1 182.0 123.6 176.5M125.9 183.8 126.5 184.5 126.9 184.5 128.2 184.0 128.8 183.6 129.3 182.2M131.6 184.3 132.2 184.5 132.6 184.5 133.9 184.0 134.5 183.2 135.0 181.0M137.3 184.2 137.9 184.5 138.4 184.5 139.6 184.0 140.2 181.8 140.7 178.2M143.0 183.8 143.6 184.5 144.1 184.5 145.3 184.0 145.9 182.6 146.4 176.7M148.7 183.8 149.3 184.5 149.8 184.5 151.0 184.0 151.6 183.2 152.1 181.2M154.4 184.1 155.0 184.5 155.5 184.5 156.7 184.0 157.3 180.8 157.8 170.8M160.1 183.2 160.7 184.5 161.2 184.5 162.4 184.0 163.0 183.7 163.5 182.8M165.8 184.3 166.4 184.5 166.9 184.5 168.1 184.0 168.7 180.1 169.2 176.7M171.5 183.7 172.1 184.5 172.6 184.5 173.8 184.0 174.4 183.3 174.9 181.2M177.2 184.2 177.8 184.5 178.3 184.5 179.5 184.0 180.1 182.5 180.6 179.3M182.9 184.1 183.5 184.5 184.0 184.5 185.2 184.0 185.8 183.5 186.3 181.8M188.7 184.2 189.2 184.5 189.7 184.5 190.9 184.0 191.5 181.4 192.0 177.3M194.4 183.8 194.9 184.5 195.4 184.5 196.6 184.0 197.2 182.9 197.7 178.1M200.1 184.1 200.6 184.5 201.1 184.5 202.3 184.0 202.9 183.9 203.4 182.3M205.8 184.3 206.3 184.5 206.8 184.5 208.0 184.0 208.6 182.3 209.1 179.3M211.5 184.0 212.0 184.5 212.5 184.5 213.7 184.0 214.3 180.8 214.8 172.5M217.2 183.6 217.7 184.5 218.2 184.5 219.4 184.0 220.0 182.3 220.5 175.6M222.9 183.8 223.4 184.5 223.9 184.5 225.2 184.0 225.7 183.1 226.2 181.4M228.6 184.1 229.1 184.5 229.6 184.5 230.9 184.0 231.4 183.6 231.9 182.6M234.3 184.3 234.8 184.5 235.3 184.5 236.6 184.0 237.1 182.4 237.6 179.8M240.0 184.1 240.5 184.5 241.0 184.5 242.3 184.0 242.8 182.6 243.3 179.9M245.7 184.1 246.3 184.5 246.7 184.5 248.0 184.0 248.5 181.9 249.0 177.5M251.4 183.8 252.0 184.5 252.4 184.5 253.7 184.0 254.2 179.8 254.7 173.2M257.1 183.7 257.7 184.5 258.1 184.5 259.4 184.0 259.9 182.8 260.5 178.4M262.8 183.9 263.4 184.5 263.8 184.5 265.1 184.0 265.6 179.8 266.2 175.1M268.5 183.4 269.1 184.5 269.5 184.5 270.8 184.0 271.3 182.2 271.9 179.1M274.2 183.8 274.8 184.5 275.2 184.5 276.5 184.0 277.0 182.5 277.6 179.2M279.9 184.0 280.5 184.5 280.9 184.5 282.2 184.0 282.8 183.2 283.3 180.4M285.6 184.2 286.2 184.5 286.6 184.5 287.9 184.0 288.5 182.4 289.0 179.8M291.3 184.1 291.9 184.5 292.3 184.5 293.6 184.0 294.2 181.9 294.7 178.3M297.0 183.7 297.6 184.5 298.0 184.5 299.3 184.0 299.9 181.5 300.4 178.2M302.7 183.9 303.3 184.5 303.7 184.5 305.0 184.0 305.6 184.0 306.1 182.7M308.4 184.4 309.0 184.5 309.4 184.5 310.7 184.0 311.3 182.4 311.8 177.3M314.1 184.0 314.7 184.5 315.1 184.5 316.4 184.0 317.0 183.1 317.5 180.0M319.8 184.1 320.4 184.5 320.8 184.5 322.1 184.0 322.7 183.0 323.2 179.7M325.5 184.1 326.1 184.5 326.6 184.5 327.8 184.0 328.4 182.8 328.9 181.3M331.2 184.1 331.8 184.5 332.3 184.5 333.5 184.0 334.1 180.7 334.6 174.2M336.9 183.6 337.5 184.5 338.0 184.5 339.2 184.0 339.8 179.0 340.3 170.9M342.6 183.2 343.2 184.5 343.7 184.5 344.9 184.0 345.5 181.0 346.0 175.4M348.3 183.4 348.9 184.5 349.4 184.5 350.6 184.0 351.2 182.7 351.7 181.1M354.0 184.2 354.6 184.5 355.1 184.5 356.3 184.0 356.9 183.1 357.4 180.2M359.7 184.2 360.3 184.5 360.8 184.5 362.0 184.0 362.6 183.6 363.1 182.1 363.6 179.0 364.0 181.9 364.4 182.1 364.9 183.6 365.4 184.2 366.0 184.5 366.5 184.5 367.7 184.0 368.3 180.1 368.8 175.7 369.3 166.6 369.7 177.2 370.1 179.4 370.6 182.4 371.1 183.4 371.7 184.5 372.2 184.5 373.4 184.0 374.0 183.1 374.5 180.0M376.9 184.2 377.4 184.5 377.9 184.5 379.1 184.0 379.7 181.1 380.2 175.7M382.6 183.6 383.1 184.5 383.6 184.5 384.8 184.0 385.4 180.7 385.9 175.9M388.3 183.7 388.8 184.5 389.3 184.5 390.5 184.0 391.1 182.6 391.6 179.2M394.0 184.0 394.5 184.5 395.0 184.5" stroke="#3C78D8" stroke-width="0.8" fill="none" stroke-linejoin="round"/>
<path d="M72.3 173.6 72.7 163.7 73.1 171.9 73.5 177.8 74.0 180.6 74.6 183.6M78.0 178.5 78.4 170.4 78.8 176.8 79.2 178.8 79.7 182.3 80.3 183.7M83.7 171.8 84.1 166.1 84.5 176.7 84.9 178.0 85.4 182.4 86.0 183.6M89.4 179.5 89.8 173.5 90.2 178.7 90.6 181.4 91.1 183.1 91.7 184.1M100.8 180.9 101.2 178.1 101.6 181.0 102.0 182.5 102.5 183.4 103.1 184.1M106.5 172.7 106.9 166.6 107.3 174.0 107.7 178.2 108.2 181.8 108.8 183.5M112.2 176.0 112.6 164.3 113.0 172.3 113.4 178.5 113.9 181.5 114.5 183.5M117.9 177.7 118.3 172.7 118.7 178.3 119.1 179.7 119.6 182.6 120.2 184.0M123.6 176.5 124.0 172.7 124.4 178.2 124.8 179.6 125.3 183.1 125.9 183.8M129.3 182.2 129.7 179.6 130.1 182.2 130.5 183.0 131.1 183.9 131.6 184.3M135.0 181.0 135.4 177.3 135.8 180.3 136.2 182.5 136.8 183.6 137.3 184.2M140.7 178.2 141.1 171.2 141.5 177.8 141.9 180.5 142.5 182.8 143.0 183.8M146.4 176.7 146.8 172.7 147.2 178.4 147.6 180.6 148.2 182.7 148.7 183.8M152.1 181.2 152.6 178.1 153.0 181.8 153.3 182.4 153.9 183.4 154.4 184.1M157.8 170.8 158.3 163.7 158.7 176.0 159.1 177.7 159.6 180.9 160.1 183.2M163.5 182.8 164.0 180.5 164.4 182.4 164.8 183.1 165.3 184.0 165.8 184.3M169.2 176.7 169.7 166.1 170.1 176.8 170.5 179.1 171.0 181.3 171.5 183.7M174.9 181.2 175.4 179.0 175.8 182.4 176.2 182.6 176.7 183.8 177.2 184.2M180.6 179.3 181.1 174.4 181.5 178.7 181.9 180.4 182.4 183.3 182.9 184.1M186.3 181.8 186.8 179.0 187.2 181.8 187.6 182.6 188.1 183.5 188.7 184.2M192.0 177.3 192.5 172.1 192.9 179.1 193.3 180.0 193.8 182.9 194.4 183.8M197.7 178.1 198.2 175.0 198.6 180.2 199.0 180.5 199.5 183.3 200.1 184.1M203.4 182.3 203.9 181.0 204.3 182.5 204.7 183.1 205.2 183.9 205.8 184.3M209.1 179.3 209.6 172.1 210.0 177.0 210.4 181.0 210.9 182.4 211.5 184.0M214.8 172.5 215.3 163.7 215.7 175.8 216.1 178.8 216.6 180.8 217.2 183.6M220.5 175.6 221.0 169.8 221.4 175.3 221.8 179.2 222.3 182.8 222.9 183.8M226.2 181.4 226.7 178.1 227.1 181.4 227.5 182.0 228.0 183.5 228.6 184.1M231.9 182.6 232.4 181.0 232.8 182.3 233.2 183.5 233.7 184.0 234.3 184.3M237.6 179.8 238.1 175.8 238.5 180.3 238.9 180.9 239.4 183.2 240.0 184.1M243.3 179.9 243.8 175.0 244.2 179.4 244.6 180.6 245.1 183.4 245.7 184.1M249.0 177.5 249.5 173.5 249.9 178.2 250.3 180.9 250.8 182.5 251.4 183.8M254.7 173.2 255.2 164.3 255.6 173.7 256.0 178.7 256.5 182.2 257.1 183.7M260.5 178.4 260.9 173.5 261.3 177.8 261.7 180.5 262.2 182.6 262.8 183.9M266.2 175.1 266.6 165.2 267.0 174.8 267.4 176.3 267.9 181.8 268.5 183.4M271.9 179.1 272.3 172.7 272.7 179.5 273.1 180.6 273.6 183.1 274.2 183.8M277.6 179.2 278.0 173.5 278.4 178.2 278.8 181.6 279.3 182.6 279.9 184.0M283.3 180.4 283.7 176.7 284.1 179.7 284.5 182.4 285.0 183.4 285.6 184.2M289.0 179.8 289.4 174.4 289.8 178.6 290.2 181.2 290.7 182.6 291.3 184.1M294.7 178.3 295.1 169.8 295.5 178.8 295.9 180.2 296.4 182.2 297.0 183.7M300.4 178.2 300.8 171.2 301.2 177.5 301.6 178.7 302.1 182.7 302.7 183.9M306.1 182.7 306.5 181.9 306.9 183.1 307.3 183.6 307.8 184.1 308.4 184.4M311.8 177.3 312.2 172.7 312.6 179.3 313.0 180.3 313.5 182.4 314.1 184.0M317.5 180.0 317.9 177.3 318.3 180.4 318.7 181.6 319.3 183.2 319.8 184.1M323.2 179.7 323.6 175.8 324.0 179.2 324.4 181.9 325.0 183.3 325.5 184.1M328.9 181.3 329.3 177.3 329.7 181.5 330.1 181.8 330.7 183.3 331.2 184.1M334.6 174.2 335.0 167.5 335.4 176.5 335.8 179.8 336.4 181.7 336.9 183.6M340.3 170.9 340.8 162.0 341.1 175.7 341.5 177.8 342.1 181.4 342.6 183.2M346.0 175.4 346.5 165.5 346.9 176.5 347.3 178.6 347.8 181.6 348.3 183.4M351.7 181.1 352.2 176.7 352.6 180.5 353.0 181.1 353.5 183.4 354.0 184.2M357.4 180.2 357.9 177.9 358.3 181.9 358.7 182.6 359.2 183.6 359.7 184.2M374.5 180.0 375.0 177.9 375.4 181.1 375.8 182.7 376.3 183.6 376.9 184.2M380.2 175.7 380.7 164.3 381.1 173.4 381.5 176.1 382.0 180.8 382.6 183.6M385.9 175.9 386.4 166.6 386.8 174.0 387.2 176.9 387.7 182.5 388.3 183.7M391.6 179.2 392.1 176.7 392.5 179.9 392.9 182.4 393.4 183.3 394.0 184.0" stroke="#000000" stroke-width="0.8" fill="none" stroke-linejoin="round"/>
<path d="M33.80 186.50H36.00" stroke="#333" stroke-width="0.55"/>
<text x="32.40" y="189.10" text-anchor="end" class="t">0</text>
<path d="M33.80 172.10H36.00" stroke="#333" stroke-width="0.55"/>
<text x="32.40" y="174.70" text-anchor="end" class="t">25</text>
<path d="M33.80 157.70H36.00" stroke="#333" stroke-width="0.55"/>
<text x="32.40" y="160.30" text-anchor="end" class="t">50</text>
<text transform="translate(10.8 172.80) rotate(-90)" text-anchor="middle" class="s">07AC001</text>
<path d="M41.40 190.50V227.50M98.43 190.50V227.50M155.46 190.50V227.50M212.49 190.50V227.50M269.52 190.50V227.50M326.55 190.50V227.50M383.58 190.50V227.50M36.00 223.50H401.00M36.00 209.10H401.00M36.00 194.70H401.00" stroke="#D6D6D6" stroke-width="0.9" fill="none"/>
<path d="M41.4 221.5 42.7 221.0 43.2 218.8 43.7 215.8 44.2 210.3 44.6 215.1 45.0 216.7 45.5 220.0 46.1 220.8 46.6 221.5 47.1 221.5 48.4 221.0 48.9 220.4 49.4 218.7 49.9 215.4 50.3 218.7 50.7 219.1 51.2 220.7 51.8 221.2 52.3 221.5 52.8 221.5 54.1 221.0 54.6 220.3 55.1 218.4 55.6 214.9 56.0 218.3 56.4 219.3 56.9 220.5 57.5 221.1 58.1 221.5 58.5 221.5 59.8 221.0 60.3 220.0 60.8 218.6 61.3 215.4 61.7 217.7 62.1 219.2 62.6 220.4 63.2 221.1 63.8 221.5 64.2 221.5 65.5 221.0 66.0 219.9 66.6 217.6 67.0 213.4 67.4 216.6 67.8 218.0 68.3 220.2 68.9 221.2 69.5 221.5 69.9 221.5 71.2 221.0 71.7 217.1 72.3 209.8 72.7 202.8 73.1 210.3 73.5 213.4 74.0 218.0 74.6 220.4 75.2 221.5 75.6 221.5 76.9 221.0 77.4 219.5 78.0 215.7 78.4 211.1 78.8 216.3 79.2 217.4 79.7 219.8 80.3 220.9 80.9 221.5 81.3 221.5 82.6 221.0 83.1 218.8 83.7 213.7 84.1 207.9 84.5 213.1 84.9 216.1 85.4 219.0 86.0 220.7 86.6 221.5 87.0 221.5 88.3 221.0 88.8 220.4 89.4 218.0 89.8 214.9 90.2 218.5 90.6 219.4 91.1 220.7 91.7 221.2 92.3 221.5 92.7 221.5 94.0 221.0 94.6 219.5 95.1 215.3 95.5 211.7 95.9 215.7 96.3 217.3 96.8 220.0 97.4 221.1 98.0 221.5 98.4 221.5 99.7 221.0 100.3 220.9 100.8 219.9 101.2 217.7 101.6 219.3 102.0 220.3 102.5 220.9 103.1 221.3 103.7 221.5 104.1 221.5 105.4 221.0 106.0 218.5 106.5 212.2 106.9 207.1 107.3 213.7 107.7 217.5 108.2 219.2 108.8 220.8 109.4 221.5 109.8 221.5 111.1 221.0 111.7 217.2 112.2 213.1 112.6 204.2 113.0 214.0 113.4 214.2 113.9 219.0 114.5 220.8 115.1 221.5 115.5 221.5 116.8 221.0 117.4 220.0 117.9 217.1 118.3 214.9 118.7 218.2 119.1 219.6 119.6 220.3 120.2 221.2 120.8 221.5 121.2 221.5 122.5 221.0 123.1 220.1 123.6 218.1 124.0 213.4 124.4 216.7 124.8 219.0 125.3 220.5 125.9 221.1 126.5 221.5 126.9 221.5 128.2 221.0 128.8 220.9 129.3 219.5 129.7 218.6 130.1 220.3 130.5 220.4 131.1 221.1 131.6 221.3 132.2 221.5 132.6 221.5 133.9 221.0 134.5 220.2 135.0 217.5 135.4 214.9 135.8 217.6 136.2 219.1 136.8 220.5 137.3 221.2 137.9 221.5 138.4 221.5 139.6 221.0 140.2 220.0 140.7 216.1 141.1 212.6 141.5 216.4 141.9 218.2 142.5 220.4 143.0 221.0 143.6 221.5 144.1 221.5 145.3 221.0 145.9 219.4 146.4 215.7 146.8 212.6 147.2 216.5 147.6 218.1 148.2 220.2 148.7 221.1 149.3 221.5 149.8 221.5 151.0 221.0 151.6 220.8 152.1 218.9 152.6 217.2 153.0 219.5 153.3 219.7 153.9 220.9 154.4 221.3 155.0 221.5 155.5 221.5 156.7 221.0 157.3 218.6 157.8 212.6 158.3 203.3 158.7 211.2 159.1 214.1 159.6 218.2 160.1 220.8 160.7 221.5 161.2 221.5 162.4 221.0 163.0 220.9 163.5 219.9 164.0 218.6 164.4 220.2 164.8 220.3 165.3 221.0 165.8 221.4 166.4 221.5 166.9 221.5 168.1 221.0 168.7 217.3 169.2 211.8 169.7 203.3 170.1 212.5 170.5 215.2 171.0 218.8 171.5 220.8 172.1 221.5 172.6 221.5 173.8 221.0 174.4 220.8 174.9 220.1 175.4 218.6 175.8 220.1 176.2 220.6 176.7 221.0 177.2 221.4 177.8 221.5 178.3 221.5 179.5 221.0 180.1 220.3 180.6 217.7 181.1 213.4 181.5 216.7 181.9 218.4 182.4 220.1 182.9 221.2 183.5 221.5 184.0 221.5 185.2 221.0 185.8 220.3 186.3 217.8 186.8 215.4 187.2 218.1 187.6 219.4 188.1 220.8 188.7 221.2 189.2 221.5 189.7 221.5 190.9 221.0 191.5 218.2 192.0 212.6M194.4 220.8 194.9 221.5 195.4 221.5 196.6 221.0 197.2 218.7 197.7 212.2M200.1 220.7 200.6 221.5 201.1 221.5 202.3 221.0 202.9 221.0 203.4 219.9M205.8 221.3 206.3 221.5 206.8 221.5 208.0 221.0 208.6 218.0 209.1 209.1M211.5 220.6 212.0 221.5 212.5 221.5 213.7 221.0 214.3 217.2 214.8 209.7M217.2 220.6 217.7 221.5 218.2 221.5 219.4 221.0 220.0 219.0 220.5 212.5M222.9 220.8 223.4 221.5 223.9 221.5 225.2 221.0 225.7 220.6 226.2 219.2M228.6 221.3 229.1 221.5 229.6 221.5 230.9 221.0 231.4 220.9 231.9 219.1M234.3 221.3 234.8 221.5 235.3 221.5 236.6 221.0 237.1 220.3 237.6 218.0M240.0 221.1 240.5 221.5 241.0 221.5 242.3 221.0 242.8 220.2 243.3 216.0M245.7 221.2 246.3 221.5 246.7 221.5 248.0 221.0 248.5 218.1 249.0 214.2M251.4 220.8 252.0 221.5 252.4 221.5 253.7 221.0 254.2 215.8 254.7 206.1M257.1 220.2 257.7 221.5 258.1 221.5 259.4 221.0 259.9 219.2 260.5 215.7M262.8 221.0 263.4 221.5 263.8 221.5 265.1 221.0 265.6 218.4 266.2 214.7M268.5 220.6 269.1 221.5 269.5 221.5 270.8 221.0 271.3 219.2 271.9 216.2M274.2 221.0 274.8 221.5 275.2 221.5 276.5 221.0 277.0 218.7 277.6 213.9M279.9 220.8 280.5 221.5 280.9 221.5 282.2 221.0 282.8 220.3 283.3 217.6M285.6 221.2 286.2 221.5 286.6 221.5 287.9 221.0 288.5 219.8 289.0 218.2M291.3 221.2 291.9 221.5 292.3 221.5 293.6 221.0 294.2 218.4 294.7 214.6M297.0 220.7 297.6 221.5 298.0 221.5 299.3 221.0 299.9 219.2 300.4 214.5M302.7 220.8 303.3 221.5 303.7 221.5 305.0 221.0 305.6 221.0 306.1 220.3M308.4 221.4 309.0 221.5 309.4 221.5 310.7 221.0 311.3 219.5 311.8 217.2M314.1 221.1 314.7 221.5 315.1 221.5 316.4 221.0 317.0 219.4 317.5 214.8M319.8 221.1 320.4 221.5 320.8 221.5 322.1 221.0 322.7 219.9 323.2 216.2M325.5 221.0 326.1 221.5 326.6 221.5 327.8 221.0 328.4 220.5 328.9 219.0M331.2 221.2 331.8 221.5 332.3 221.5 333.5 221.0 334.1 217.8 334.6 214.0M336.9 220.8 337.5 221.5 338.0 221.5 339.2 221.0 339.8 217.4 340.3 210.4M342.6 220.4 343.2 221.5 343.7 221.5 344.9 221.0 345.5 217.4 346.0 209.9M348.3 220.4 348.9 221.5 349.4 221.5 350.6 221.0 351.2 219.8 351.7 216.8M354.0 221.2 354.6 221.5 355.1 221.5 356.3 221.0 356.9 220.3 357.4 218.6M359.7 221.2 360.3 221.5 360.8 221.5 362.0 221.0 362.6 220.5 363.1 219.3 363.6 217.5 364.0 219.3 364.4 219.9 364.9 220.9 365.4 221.3 366.0 221.5 366.5 221.5 367.7 221.0 368.3 219.5 368.8 215.9 369.3 209.7 369.7 215.2 370.1 216.8 370.6 219.3 371.1 221.0 371.7 221.5 372.2 221.5 373.4 221.0 374.0 219.3 374.5 217.2M376.9 221.1 377.4 221.5 377.9 221.5 379.1 221.0 379.7 216.9 380.2 205.5M382.6 220.1 383.1 221.5 383.6 221.5 384.8 221.0 385.4 218.7 385.9 213.0M388.3 220.7 388.8 221.5 389.3 221.5 390.5 221.0 391.1 220.6 391.6 219.1M394.0 221.3 394.5 221.5 395.0 221.5" stroke="#3C78D8" stroke-width="0.8" fill="none" stroke-linejoin="round"/>
<path d="M192.0 212.6 192.5 207.9 192.9 214.3 193.3 217.1 193.8 219.4 194.4 220.8M197.7 212.2 198.2 207.1 198.6 214.1 199.0 217.5 199.5 219.1 200.1 220.7M203.4 219.9 203.9 218.6 204.3 219.7 204.7 220.4 205.2 221.0 205.8 221.3M209.1 209.1 209.6 203.3 210.0 213.4 210.4 215.2 210.9 219.3 211.5 220.6M214.8 209.7 215.3 201.9 215.7 209.4 216.1 215.4 216.6 219.0 217.2 220.6M220.5 212.5 221.0 207.9 221.4 215.7 221.8 216.8 222.3 218.9 222.9 220.8M226.2 219.2 226.7 217.2 227.1 219.5 227.5 220.1 228.0 220.7 228.6 221.3M231.9 219.1 232.4 217.7 232.8 219.4 233.2 220.2 233.7 220.9 234.3 221.3M237.6 218.0 238.1 214.9 238.5 218.4 238.9 219.1 239.4 220.6 240.0 221.1M243.3 216.0 243.8 213.4 244.2 218.4 244.6 218.7 245.1 220.3 245.7 221.2M249.0 214.2 249.5 207.9 249.9 215.8 250.3 217.2 250.8 219.8 251.4 220.8M254.7 206.1 255.2 198.7 255.6 211.6 256.0 212.7 256.5 218.0 257.1 220.2M260.5 215.7 260.9 207.9 261.3 216.0 261.7 215.8 262.2 219.9 262.8 221.0M266.2 214.7 266.6 205.6 267.0 214.9 267.4 214.7 267.9 219.5 268.5 220.6M271.9 216.2 272.3 211.7 272.7 216.7 273.1 218.6 273.6 220.1 274.2 221.0M277.6 213.9 278.0 207.9 278.4 215.2 278.8 215.8 279.3 219.5 279.9 220.8M283.3 217.6 283.7 215.4 284.1 218.3 284.5 219.1 285.0 220.4 285.6 221.2M289.0 218.2 289.4 214.0 289.8 217.8 290.2 218.9 290.7 220.4 291.3 221.2M294.7 214.6 295.1 207.9 295.5 215.1 295.9 217.7 296.4 219.1 297.0 220.7M300.4 214.5 300.8 207.9 301.2 215.4 301.6 217.5 302.1 219.1 302.7 220.8M306.1 220.3 306.5 219.5 306.9 220.6 307.3 220.7 307.8 221.2 308.4 221.4M311.8 217.2 312.2 211.7 312.6 217.1 313.0 218.0 313.5 220.3 314.1 221.1M317.5 214.8 317.9 211.7 318.3 216.4 318.7 217.2 319.3 220.0 319.8 221.1M323.2 216.2 323.6 211.7 324.0 215.7 324.4 217.5 325.0 219.7 325.5 221.0M328.9 219.0 329.3 217.2 329.7 219.7 330.1 219.9 330.7 220.9 331.2 221.2M334.6 214.0 335.0 205.6 335.4 215.0 335.8 216.5 336.4 219.7 336.9 220.8M340.3 210.4 340.8 204.8 341.1 213.4 341.5 214.5 342.1 219.4 342.6 220.4M346.0 209.9 346.5 201.6 346.9 212.6 347.3 216.2 347.8 218.4 348.3 220.4M351.7 216.8 352.2 214.0 352.6 216.9 353.0 219.5 353.5 220.3 354.0 221.2M357.4 218.6 357.9 216.3 358.3 219.5 358.7 219.8 359.2 220.6 359.7 221.2M374.5 217.2 375.0 212.8 375.4 217.5 375.8 218.2 376.3 219.9 376.9 221.1M380.2 205.5 380.7 197.3 381.1 207.3 381.5 213.4 382.0 218.3 382.6 220.1M385.9 213.0 386.4 205.1 386.8 215.3 387.2 216.5 387.7 219.1 388.3 220.7M391.6 219.1 392.1 217.5 392.5 219.7 392.9 220.1 393.4 221.0 394.0 221.3" stroke="#000000" stroke-width="0.8" fill="none" stroke-linejoin="round"/>
<path d="M33.80 223.50H36.00" stroke="#333" stroke-width="0.55"/>
<text x="32.40" y="226.10" text-anchor="end" class="t">0</text>
<path d="M33.80 209.10H36.00" stroke="#333" stroke-width="0.55"/>
<text x="32.40" y="211.70" text-anchor="end" class="t">125</text>
<path d="M33.80 194.70H36.00" stroke="#333" stroke-width="0.55"/>
<text x="32.40" y="197.30" text-anchor="end" class="t">250</text>
<text transform="translate(10.8 209.80) rotate(-90)" text-anchor="middle" class="s">07AC007</text>
<path d="M41.40 227.50V264.50M98.43 227.50V264.50M155.46 227.50V264.50M212.49 227.50V264.50M269.52 227.50V264.50M326.55 227.50V264.50M383.58 227.50V264.50M36.00 260.50H401.00M36.00 246.10H401.00M36.00 231.70H401.00" stroke="#D6D6D6" stroke-width="0.9" fill="none"/>
<path d="M41.4 259.1 42.9 258.7 43.3 252.6 43.9 241.8 44.3 237.5 44.7 243.5 45.2 251.3 45.7 256.5 46.4 258.7 47.1 259.1M360.8 259.1 362.3 258.7 362.7 255.9 363.2 250.8 363.6 248.7 364.0 251.6 364.5 255.3 365.1 257.8 365.8 258.7 366.5 259.1 368.0 258.7 368.4 252.8 368.9 242.2 369.3 238.0 369.7 243.9 370.2 251.5 370.8 256.5 371.5 258.7 372.2 259.1" stroke="#3C78D8" stroke-width="0.8" fill="none" stroke-linejoin="round"/>
<path d="M47.1 259.1 48.6 258.7 49.0 253.7 49.6 244.8 50.0 241.2 50.4 246.2 50.9 252.6 51.4 256.9 52.1 258.7 52.8 259.1 54.3 258.7 54.7 254.6 55.3 247.1 55.7 244.1 56.1 248.3 56.6 253.7 57.1 257.3 57.8 258.7 58.5 259.1 60.0 258.7 60.4 254.6 61.0 247.1 61.4 244.1 61.8 248.3 62.3 253.7 62.8 257.3 63.5 258.7 64.2 259.1 65.7 258.7 66.2 253.5 66.7 244.3 67.1 240.6 67.5 245.8 68.0 252.4 68.5 256.8 69.2 258.7 69.9 259.1 71.4 258.7 71.9 253.2 72.4 243.4 72.8 239.5 73.2 245.0 73.7 252.0 74.2 256.7 74.9 258.7 75.6 259.1 77.1 258.7 77.6 253.9 78.1 245.2 78.5 241.8 78.9 246.6 79.4 252.8 80.0 257.0 80.6 258.7 81.3 259.1 82.8 258.7 83.3 252.6 83.8 241.8 84.2 237.5 84.6 243.5 85.1 251.3 85.7 256.5 86.3 258.7 87.0 259.1 88.5 258.7 89.0 253.2 89.5 243.4 89.9 239.5 90.3 245.0 90.8 252.0 91.4 256.7 92.0 258.7 92.7 259.1 94.2 258.7 94.7 254.2 95.2 246.2 95.6 242.9 96.0 247.4 96.5 253.3 97.1 257.1 97.7 258.7 98.4 259.1 99.9 258.7 100.4 254.2 100.9 246.2 101.3 242.9 101.7 247.4 102.2 253.3 102.8 257.1 103.4 258.7 104.1 259.1 105.6 258.7 106.1 253.5 106.6 244.3 107.0 240.6 107.4 245.8 107.9 252.4 108.5 256.8 109.2 258.7 109.8 259.1 111.3 258.7 111.8 251.9 112.3 239.9 112.7 235.2 113.1 241.8 113.6 250.5 114.2 256.2 114.9 258.7 115.5 259.1 117.0 258.7 117.5 254.9 118.0 248.0 118.4 245.2 118.8 249.1 119.3 254.1 119.9 257.4 120.6 258.7 121.2 259.1 122.7 258.7 123.2 253.7 123.7 244.8 124.1 241.2 124.5 246.2 125.0 252.6 125.6 256.9 126.3 258.7 126.9 259.1 128.4 258.7 128.9 254.2 129.4 246.2 129.8 242.9 130.2 247.4 130.7 253.3 131.3 257.1 132.0 258.7 132.6 259.1 134.1 258.7 134.6 254.6 135.1 247.1 135.5 244.1 135.9 248.3 136.4 253.7 137.0 257.3 137.7 258.7 138.4 259.1 139.8 258.7 140.3 254.6 140.8 247.1 141.2 244.1 141.6 248.3 142.1 253.7 142.7 257.3 143.4 258.7 144.1 259.1 145.5 258.7 146.0 253.9 146.5 245.2 146.9 241.8 147.3 246.6 147.8 252.8 148.4 257.0 149.1 258.7 149.8 259.1 151.2 258.7 151.7 254.9 152.2 248.0 152.6 245.2 153.0 249.1 153.5 254.1 154.1 257.4 154.8 258.7 155.5 259.1 156.9 258.7 157.4 254.2 157.9 246.2 158.3 242.9 158.7 247.4 159.2 253.3 159.8 257.1 160.5 258.7 161.2 259.1 162.6 258.7 163.1 255.3 163.6 249.2 164.0 246.7 164.4 250.1 164.9 254.6 165.5 257.6 166.2 258.7 166.9 259.1 168.3 258.7 168.8 253.5 169.3 244.3 169.7 240.6 170.1 245.8 170.6 252.4 171.2 256.8 171.9 258.7 172.6 259.1 174.1 258.7 174.5 255.6 175.0 249.8 175.4 247.5 175.8 250.8 176.3 254.9 176.9 257.7 177.6 258.7 178.3 259.1 179.8 258.7 180.2 254.5 180.7 246.8 181.1 243.8 181.5 248.1 182.0 253.6 182.6 257.2 183.3 258.7 184.0 259.1 185.5 258.7 185.9 255.3 186.4 249.2 186.8 246.7 187.2 250.1 187.7 254.6 188.3 257.6 189.0 258.7 189.7 259.1 191.2 258.7 191.6 253.4 192.1 243.9 192.5 240.1 192.9 245.4 193.4 252.2 194.0 256.8 194.7 258.7 195.4 259.1 196.9 258.7 197.3 254.9 197.8 248.0 198.2 245.2 198.6 249.1 199.1 254.1 199.7 257.4 200.4 258.7 201.1 259.1 202.6 258.7 203.0 255.6 203.5 249.8 203.9 247.5 204.3 250.8 204.8 254.9 205.4 257.7 206.1 258.7 206.8 259.1 208.3 258.7 208.7 254.5 209.2 246.8 209.6 243.8 210.0 248.1 210.6 253.6 211.1 257.2 211.8 258.7 212.5 259.1 214.0 258.7 214.4 253.1 214.9 243.2 215.3 239.2 215.7 244.8 216.3 251.9 216.8 256.7 217.5 258.7 218.2 259.1 219.7 258.7 220.1 252.6 220.6 241.8 221.0 237.5 221.4 243.5 222.0 251.3 222.5 256.5 223.2 258.7 223.9 259.1 225.4 258.7 225.8 253.9 226.3 245.2 226.7 241.8 227.1 246.6 227.7 252.8 228.2 257.0 228.9 258.7 229.6 259.1 231.1 258.7 231.5 255.6 232.1 249.8 232.5 247.5 232.8 250.8 233.4 254.9 233.9 257.7 234.6 258.7 235.3 259.1 236.8 258.7 237.2 254.6 237.8 247.1 238.2 244.1 238.6 248.3 239.1 253.7 239.6 257.3 240.3 258.7 241.0 259.1 242.5 258.7 242.9 254.4 243.5 246.6 243.9 243.5 244.3 247.9 244.8 253.5 245.3 257.2 246.0 258.7 246.7 259.1 248.2 258.7 248.6 253.9 249.2 245.2 249.6 241.8 250.0 246.6 250.5 252.8 251.0 257.0 251.7 258.7 252.4 259.1 253.9 258.7 254.4 253.5 254.9 244.3 255.3 240.6 255.7 245.8 256.2 252.4 256.7 256.8 257.4 258.7 258.1 259.1 259.6 258.7 260.1 254.7 260.6 247.5 261.0 244.7 261.4 248.7 261.9 253.9 262.4 257.3 263.1 258.7 263.8 259.1 265.3 258.7 265.8 252.8 266.3 242.5 266.7 238.3 267.1 244.1 267.6 251.6 268.2 256.6 268.8 258.7 269.5 259.1 271.0 258.7 271.5 253.9 272.0 245.2 272.4 241.8 272.8 246.6 273.3 252.8 273.9 257.0 274.5 258.7 275.2 259.1 276.7 258.7 277.2 254.6 277.7 247.1 278.1 244.1 278.5 248.3 279.0 253.7 279.6 257.3 280.2 258.7 280.9 259.1 282.4 258.7 282.9 253.5 283.4 244.3 283.8 240.6 284.2 245.8 284.7 252.4 285.3 256.8 285.9 258.7 286.6 259.1 288.1 258.7 288.6 254.2 289.1 246.2 289.5 242.9 289.9 247.4 290.4 253.3 291.0 257.1 291.6 258.7 292.3 259.1 293.8 258.7 294.3 254.4 294.8 246.6 295.2 243.5 295.6 247.9 296.1 253.5 296.7 257.2 297.4 258.7 298.0 259.1 299.5 258.7 300.0 254.6 300.5 247.1 300.9 244.1 301.3 248.3 301.8 253.7 302.4 257.3 303.1 258.7 303.7 259.1 305.2 258.7 305.7 254.9 306.2 248.0 306.6 245.2 307.0 249.1 307.5 254.1 308.1 257.4 308.8 258.7 309.4 259.1 310.9 258.7 311.4 253.2 311.9 243.4 312.3 239.5 312.7 245.0 313.2 252.0 313.8 256.7 314.5 258.7 315.1 259.1 316.6 258.7 317.1 254.9 317.6 248.0 318.0 245.2 318.4 249.1 318.9 254.1 319.5 257.4 320.2 258.7 320.8 259.1 322.3 258.7 322.8 254.9 323.3 248.0 323.7 245.2 324.1 249.1 324.6 254.1 325.2 257.4 325.9 258.7 326.6 259.1 328.0 258.7 328.5 254.9 329.0 248.0 329.4 245.2 329.8 249.1 330.3 254.1 330.9 257.4 331.6 258.7 332.3 259.1 333.7 258.7 334.2 253.5 334.7 244.3 335.1 240.6 335.5 245.8 336.0 252.4 336.6 256.8 337.3 258.7 338.0 259.1 339.4 258.7 339.9 251.4 340.4 238.6 340.8 233.4 341.2 240.6 341.7 249.8 342.3 256.0 343.0 258.7 343.7 259.1 345.1 258.7 345.6 253.5 346.1 244.3 346.5 240.6 346.9 245.8 347.4 252.4 348.0 256.8 348.7 258.7 349.4 259.1 350.8 258.7 351.3 254.7 351.8 247.5 352.2 244.7 352.6 248.7 353.1 253.9 353.7 257.3 354.4 258.7 355.1 259.1 356.5 258.7 357.0 254.0 357.5 245.7 357.9 242.4 358.3 247.0 358.8 253.0 359.4 257.1 360.1 258.7 360.8 259.1M372.2 259.1 373.7 258.7 374.1 254.9 374.6 248.0 375.0 245.2 375.4 249.1 375.9 254.1 376.5 257.4 377.2 258.7 377.9 259.1 379.4 258.7 379.8 253.9 380.3 245.2 380.7 241.8 381.1 246.6 381.6 252.8 382.2 257.0 382.9 258.7 383.6 259.1 385.1 258.7 385.5 252.3 386.0 241.1 386.4 236.6 386.8 242.9 387.3 251.0 387.9 256.4 388.6 258.7 389.3 259.1 390.8 258.7 391.2 252.8 391.7 242.2 392.1 238.0 392.5 243.9 393.0 251.5 393.6 256.5 394.3 258.7 395.0 259.1" stroke="#000000" stroke-width="0.8" fill="none" stroke-linejoin="round"/>
<path d="M33.80 260.50H36.00" stroke="#333" stroke-width="0.55"/>
<text x="32.40" y="263.10" text-anchor="end" class="t">0</text>
<path d="M33.80 246.10H36.00" stroke="#333" stroke-width="0.55"/>
<text x="32.40" y="248.70" text-anchor="end" class="t">425</text>
<path d="M33.80 231.70H36.00" stroke="#333" stroke-width="0.55"/>
<text x="32.40" y="234.30" text-anchor="end" class="t">850</text>
<text transform="translate(10.8 246.80) rotate(-90)" text-anchor="middle" class="s">07AD002</text>
<path d="M41.40 264.50V301.50M98.43 264.50V301.50M155.46 264.50V301.50M212.49 264.50V301.50M269.52 264.50V301.50M326.55 264.50V301.50M383.58 264.50V301.50M36.00 297.50H401.00M36.00 283.10H401.00M36.00 268.70H401.00" stroke="#D6D6D6" stroke-width="0.9" fill="none"/>
<path d="M41.4 295.8 42.9 295.3M144.1 295.8 145.5 295.3M149.8 295.8 151.2 295.3M155.5 295.8 156.9 295.3M161.2 295.8 162.6 295.3M166.9 295.8 168.3 295.3M172.6 295.8 174.1 295.3M178.3 295.8 179.8 295.3M184.0 295.8 185.5 295.3M189.7 295.8 191.2 295.3M195.4 295.8 196.9 295.3M201.1 295.8 202.6 295.3M206.8 295.8 208.3 295.3M212.5 295.8 214.0 295.3M218.2 295.8 219.7 295.3M223.9 295.8 225.4 295.3M229.6 295.8 231.1 295.3M235.3 295.8 236.8 295.3M241.0 295.8 242.5 295.3M246.7 295.8 248.2 295.3M252.4 295.8 253.9 295.3M258.1 295.8 259.6 295.3M263.8 295.8 265.3 295.3M269.5 295.8 271.0 295.3M275.2 295.8 276.7 295.3M280.9 295.8 282.4 295.3M286.6 295.8 288.1 295.3M292.3 295.8 293.8 295.3M298.0 295.8 299.5 295.3M303.7 295.8 305.2 295.3M309.4 295.8 310.9 295.3M315.1 295.8 316.6 295.3M320.8 295.8 322.3 295.3M326.6 295.8 328.0 295.3M332.3 295.8 333.7 295.3M338.0 295.8 339.4 295.3M343.7 295.8 345.1 295.3M349.4 295.8 350.8 295.3M355.1 295.8 356.5 295.3M360.8 295.8 362.3 295.3M366.5 295.8 368.0 295.3M372.2 295.8 373.7 295.3M377.9 295.8 379.4 295.3M383.6 295.8 385.1 295.3M389.3 295.8 390.8 295.3" stroke="#3C78D8" stroke-width="0.8" fill="none" stroke-linejoin="round"/>
<path d="M42.9 295.3 43.3 290.1 43.9 280.6 44.3 276.8 44.7 282.1 45.2 288.9 45.7 293.5 46.4 295.3 47.1 295.8 48.6 295.3 49.0 291.1 49.6 283.3 50.0 280.2 50.4 284.6 50.9 290.2 51.4 293.9 52.1 295.3 52.8 295.8 54.3 295.3 54.7 291.5 55.3 284.3 55.7 281.4 56.1 285.4 56.6 290.6 57.1 294.0 57.8 295.3 58.5 295.8 60.0 295.3 60.4 291.5 61.0 284.3 61.4 281.4 61.8 285.4 62.3 290.6 62.8 294.0 63.5 295.3 64.2 295.8 65.7 295.3 66.2 290.8 66.7 282.4 67.1 279.1 67.5 283.7 68.0 289.8 68.5 293.8 69.2 295.3 69.9 295.8 71.4 295.3 71.9 288.1 72.4 275.3 72.8 270.1 73.2 277.3 73.7 286.5 74.2 292.7 74.9 295.3 75.6 295.8 77.1 295.3 77.6 290.4 78.1 281.5 78.5 277.9 78.9 282.9 79.4 289.3 80.0 293.6 80.6 295.3 81.3 295.8 82.8 295.3 83.3 289.7 83.8 279.6 84.2 275.6 84.6 281.3 85.1 288.5 85.7 293.4 86.3 295.3 87.0 295.8 88.5 295.3 89.0 289.7 89.5 279.6 89.9 275.6 90.3 281.3 90.8 288.5 91.4 293.4 92.0 295.3 92.7 295.8 94.2 295.3 94.7 291.5 95.2 284.3 95.6 281.4 96.0 285.4 96.5 290.6 97.1 294.0 97.7 295.3 98.4 295.8 99.9 295.3 100.4 291.5 100.9 284.3 101.3 281.4 101.7 285.4 102.2 290.6 102.8 294.0 103.4 295.3 104.1 295.8 105.6 295.3 106.1 289.7 106.6 279.6 107.0 275.6 107.4 281.3 107.9 288.5 108.5 293.4 109.2 295.3 109.8 295.8 111.3 295.3 111.8 288.4 112.3 276.2 112.7 271.3 113.1 278.1 113.6 287.0 114.2 292.8 114.9 295.3 115.5 295.8 117.0 295.3 117.5 291.8 118.0 285.2 118.4 282.5 118.8 286.2 119.3 291.0 119.9 294.2 120.6 295.3 121.2 295.8 122.7 295.3 123.2 290.8 123.7 282.4 124.1 279.1 124.5 283.7 125.0 289.8 125.6 293.8 126.3 295.3 126.9 295.8 128.4 295.3 128.9 291.5 129.4 284.3 129.8 281.4 130.2 285.4 130.7 290.6 131.3 294.0 132.0 295.3 132.6 295.8 134.1 295.3 134.6 291.1 135.1 283.3 135.5 280.2 135.9 284.6 136.4 290.2 137.0 293.9 137.7 295.3 138.4 295.8 139.8 295.3 140.3 291.1 140.8 283.3 141.2 280.2 141.6 284.6 142.1 290.2 142.7 293.9 143.4 295.3 144.1 295.8M145.5 295.3 146.0 290.8 146.5 282.4 146.9 279.1 147.3 283.7 147.8 289.8 148.4 293.8 149.1 295.3 149.8 295.8M151.2 295.3 151.7 291.5 152.2 284.3 152.6 281.4 153.0 285.4 153.5 290.6 154.1 294.0 154.8 295.3 155.5 295.8M156.9 295.3 157.4 289.7 157.9 279.6 158.3 275.6 158.7 281.3 159.2 288.5 159.8 293.4 160.5 295.3 161.2 295.8M162.6 295.3 163.1 292.6 163.6 287.2 164.0 285.1 164.4 288.1 164.9 291.9 165.5 294.5 166.2 295.3 166.9 295.8M168.3 295.3 168.8 289.4 169.3 278.7 169.7 274.5 170.1 280.4 170.6 288.1 171.2 293.2 171.9 295.3 172.6 295.8M174.1 295.3 174.5 291.9 175.0 285.4 175.4 282.8 175.8 286.4 176.3 291.1 176.9 294.2 177.6 295.3 178.3 295.8M179.8 295.3 180.2 292.1 180.7 285.9 181.1 283.4 181.5 286.9 182.0 291.3 182.6 294.3 183.3 295.3 184.0 295.8M185.5 295.3 185.9 292.6 186.4 287.2 186.8 285.1 187.2 288.1 187.7 291.9 188.3 294.5 189.0 295.3 189.7 295.8M191.2 295.3 191.6 290.2 192.1 281.0 192.5 277.3 192.9 282.5 193.4 289.1 194.0 293.6 194.7 295.3 195.4 295.8M196.9 295.3 197.3 292.1 197.8 285.9 198.2 283.4 198.6 286.9 199.1 291.3 199.7 294.3 200.4 295.3 201.1 295.8M202.6 295.3 203.0 292.7 203.5 287.7 203.9 285.7 204.3 288.5 204.8 292.1 205.4 294.6 206.1 295.3 206.8 295.8M208.3 295.3 208.7 291.2 209.2 283.6 209.6 280.5 210.0 284.8 210.6 290.3 211.1 293.9 211.8 295.3 212.5 295.8M214.0 295.3 214.4 290.1 214.9 280.6 215.3 276.8 215.7 282.1 216.3 288.9 216.8 293.5 217.5 295.3 218.2 295.8M219.7 295.3 220.1 290.1 220.6 280.6 221.0 276.8 221.4 282.1 222.0 288.9 222.5 293.5 223.2 295.3 223.9 295.8M225.4 295.3 225.8 291.5 226.3 284.3 226.7 281.4 227.1 285.4 227.7 290.6 228.2 294.0 228.9 295.3 229.6 295.8M231.1 295.3 231.5 292.7 232.1 287.7 232.5 285.7 232.8 288.5 233.4 292.1 233.9 294.6 234.6 295.3 235.3 295.8M236.8 295.3 237.2 291.8 237.8 285.2 238.2 282.5 238.6 286.2 239.1 291.0 239.6 294.2 240.3 295.3 241.0 295.8M242.5 295.3 242.9 291.5 243.5 284.3 243.9 281.4 244.3 285.4 244.8 290.6 245.3 294.0 246.0 295.3 246.7 295.8M248.2 295.3 248.6 291.1 249.2 283.3 249.6 280.2 250.0 284.6 250.5 290.2 251.0 293.9 251.7 295.3 252.4 295.8M253.9 295.3 254.4 290.1 254.9 280.6 255.3 276.8 255.7 282.1 256.2 288.9 256.7 293.5 257.4 295.3 258.1 295.8M259.6 295.3 260.1 291.8 260.6 285.2 261.0 282.5 261.4 286.2 261.9 291.0 262.4 294.2 263.1 295.3 263.8 295.8M265.3 295.3 265.8 290.1 266.3 280.6 266.7 276.8 267.1 282.1 267.6 288.9 268.2 293.5 268.8 295.3 269.5 295.8M271.0 295.3 271.5 291.5 272.0 284.3 272.4 281.4 272.8 285.4 273.3 290.6 273.9 294.0 274.5 295.3 275.2 295.8M276.7 295.3 277.2 291.8 277.7 285.2 278.1 282.5 278.5 286.2 279.0 291.0 279.6 294.2 280.2 295.3 280.9 295.8M282.4 295.3 282.9 291.1 283.4 283.3 283.8 280.2 284.2 284.6 284.7 290.2 285.3 293.9 285.9 295.3 286.6 295.8M288.1 295.3 288.6 291.8 289.1 285.2 289.5 282.5 289.9 286.2 290.4 291.0 291.0 294.2 291.6 295.3 292.3 295.8M293.8 295.3 294.3 291.5 294.8 284.3 295.2 281.4 295.6 285.4 296.1 290.6 296.7 294.0 297.4 295.3 298.0 295.8M299.5 295.3 300.0 291.5 300.5 284.3 300.9 281.4 301.3 285.4 301.8 290.6 302.4 294.0 303.1 295.3 303.7 295.8M305.2 295.3 305.7 292.4 306.2 286.8 306.6 284.5 307.0 287.7 307.5 291.7 308.1 294.4 308.8 295.3 309.4 295.8M310.9 295.3 311.4 290.8 311.9 282.4 312.3 279.1 312.7 283.7 313.2 289.8 313.8 293.8 314.5 295.3 315.1 295.8M316.6 295.3 317.1 291.8 317.6 285.2 318.0 282.5 318.4 286.2 318.9 291.0 319.5 294.2 320.2 295.3 320.8 295.8M322.3 295.3 322.8 292.1 323.3 286.1 323.7 283.7 324.1 287.1 324.6 291.4 325.2 294.3 325.9 295.3 326.6 295.8M328.0 295.3 328.5 292.4 329.0 286.8 329.4 284.5 329.8 287.7 330.3 291.7 330.9 294.4 331.6 295.3 332.3 295.8M333.7 295.3 334.2 289.7 334.7 279.6 335.1 275.6 335.5 281.3 336.0 288.5 336.6 293.4 337.3 295.3 338.0 295.8M339.4 295.3 339.9 288.4 340.4 276.2 340.8 271.3 341.2 278.1 341.7 287.0 342.3 292.8 343.0 295.3 343.7 295.8M345.1 295.3 345.6 290.1 346.1 280.6 346.5 276.8 346.9 282.1 347.4 288.9 348.0 293.5 348.7 295.3 349.4 295.8M350.8 295.3 351.3 291.8 351.8 285.2 352.2 282.5 352.6 286.2 353.1 291.0 353.7 294.2 354.4 295.3 355.1 295.8M356.5 295.3 357.0 291.8 357.5 285.2 357.9 282.5 358.3 286.2 358.8 291.0 359.4 294.2 360.1 295.3 360.8 295.8M362.3 295.3 362.7 292.7 363.2 287.7 363.6 285.7 364.0 288.5 364.5 292.1 365.1 294.6 365.8 295.3 366.5 295.8M368.0 295.3 368.4 290.1 368.9 280.6 369.3 276.8 369.7 282.1 370.2 288.9 370.8 293.5 371.5 295.3 372.2 295.8M373.7 295.3 374.1 291.1 374.6 283.3 375.0 280.2 375.4 284.6 375.9 290.2 376.5 293.9 377.2 295.3 377.9 295.8M379.4 295.3 379.8 289.4 380.3 278.7 380.7 274.5 381.1 280.4 381.6 288.1 382.2 293.2 382.9 295.3 383.6 295.8M385.1 295.3 385.5 289.4 386.0 278.7 386.4 274.5 386.8 280.4 387.3 288.1 387.9 293.2 388.6 295.3 389.3 295.8M390.8 295.3 391.2 290.8 391.7 282.4 392.1 279.1 392.5 283.7 393.0 289.8 393.6 293.8 394.3 295.3 395.0 295.8" stroke="#000000" stroke-width="0.8" fill="none" stroke-linejoin="round"/>
<path d="M33.80 297.50H36.00" stroke="#333" stroke-width="0.55"/>
<text x="32.40" y="300.10" text-anchor="end" class="t">0</text>
<path d="M33.80 283.10H36.00" stroke="#333" stroke-width="0.55"/>
<text x="32.40" y="285.70" text-anchor="end" class="t">575</text>
<path d="M33.80 268.70H36.00" stroke="#333" stroke-width="0.55"/>
<text x="32.40" y="271.30" text-anchor="end" class="t">1150</text>
<text transform="translate(10.8 283.80) rotate(-90)" text-anchor="middle" class="s">07AE001</text>
<path d="M41.40 301.50V338.50M98.43 301.50V338.50M155.46 301.50V338.50M212.49 301.50V338.50M269.52 301.50V338.50M326.55 301.50V338.50M383.58 301.50V338.50M36.00 334.50H401.00M36.00 320.10H401.00M36.00 305.70H401.00" stroke="#D6D6D6" stroke-width="0.9" fill="none"/>
<path d="M218.2 333.9 219.4 333.8M223.4 333.9 223.9 333.9 225.2 333.8M229.1 333.9 229.6 333.9 230.9 333.8M234.8 333.9 235.3 333.9 236.6 333.8M240.5 333.9 241.0 333.9 242.3 333.8M246.3 333.9 246.7 333.9 248.0 333.8M252.0 333.9 252.4 333.9 253.7 333.8M257.7 333.9 258.1 333.9 259.4 333.8M263.4 333.9 263.8 333.9 265.1 333.8M269.1 333.9 269.5 333.9 270.8 333.8M274.8 333.9 275.2 333.9 276.5 333.8M280.5 333.9 280.9 333.9 282.2 333.8M286.2 333.9 286.6 333.9 287.9 333.8M291.9 333.9 292.3 333.9 293.6 333.8M297.6 333.9 298.0 333.9 299.3 333.8M303.3 333.9 303.7 333.9 305.0 333.8M309.0 333.9 309.4 333.9 310.7 333.8M314.7 333.9 315.1 333.9 316.4 333.8M320.4 333.9 320.8 333.9 322.1 333.8M326.1 333.9 326.6 333.9 327.8 333.8M331.8 333.9 332.3 333.9 333.5 333.8M337.5 333.9 338.0 333.9 339.2 333.8M343.2 333.9 343.7 333.9 344.9 333.8M348.9 333.9 349.4 333.9 350.6 333.8M354.6 333.9 355.1 333.9 356.3 333.8M360.3 333.9 360.8 333.9 362.0 333.8M366.0 333.9 366.5 333.9 367.7 333.8 368.3 331.8 368.8 327.0 369.3 322.4 369.7 327.5 370.1 329.9 370.6 332.0 371.1 333.3 371.7 333.9 372.2 333.9 373.4 333.8M377.4 333.9 377.9 333.9 379.1 333.8M383.1 333.9 383.6 333.9 384.8 333.8M388.8 333.9 389.3 333.9 390.5 333.8M394.5 333.9 395.0 333.9" stroke="#3C78D8" stroke-width="0.8" fill="none" stroke-linejoin="round"/>
<path d="M41.4 333.9 42.7 333.8 43.2 332.5 43.7 328.4 44.2 325.3 44.6 328.8 45.0 331.1 45.5 332.8 46.1 333.6 46.6 333.9 47.1 333.9 48.4 333.8 48.9 333.3 49.4 332.0 49.9 329.9 50.3 332.2 50.7 332.3 51.2 333.4 51.8 333.8 52.3 333.9 52.8 333.9 54.1 333.8 54.6 332.6 55.1 330.3 55.6 328.5 56.0 331.7 56.4 332.2 56.9 332.9 57.5 333.7 58.1 333.9 58.5 333.9 59.8 333.8 60.3 332.9 60.8 331.0 61.3 329.0 61.7 331.3 62.1 332.6 62.6 333.1 63.2 333.6 63.8 333.9 64.2 333.9 65.5 333.8 66.0 332.0 66.6 328.8 67.0 323.8 67.4 328.3 67.8 329.5 68.3 332.1 68.9 333.5 69.5 333.9 69.9 333.9 71.2 333.8 71.7 331.3 72.3 327.6 72.7 322.4 73.1 326.8 73.5 328.9 74.0 332.2 74.6 333.2 75.2 333.9 75.6 333.9 76.9 333.8 77.4 331.7 78.0 329.8 78.4 324.7 78.8 329.5 79.2 330.0 79.7 332.7 80.3 333.5 80.9 333.9 81.3 333.9 82.6 333.8 83.1 332.0 83.7 329.2 84.1 324.7 84.5 328.7 84.9 331.2 85.4 332.5 86.0 333.5 86.6 333.9 87.0 333.9 88.3 333.8 88.8 333.2 89.4 330.8 89.8 329.0 90.2 331.1 90.6 331.9 91.1 333.3 91.7 333.7 92.3 333.9 92.7 333.9 94.0 333.8 94.6 332.0 95.1 326.8 95.5 322.4 95.9 327.8 96.3 329.1 96.8 332.5 97.4 333.4 98.0 333.9 98.4 333.9 99.7 333.8 100.3 333.2 100.8 330.7 101.2 329.0 101.6 331.3 102.0 332.5 102.5 333.1 103.1 333.7 103.7 333.9 104.1 333.9 105.4 333.8 106.0 331.7 106.5 326.7 106.9 322.4 107.3 327.5 107.7 329.9 108.2 332.4 108.8 333.4 109.4 333.9 109.8 333.9 111.1 333.8 111.7 332.0 112.2 329.3 112.6 323.8 113.0 329.7 113.4 330.3 113.9 332.1 114.5 333.4 115.1 333.9 115.5 333.9 116.8 333.8 117.4 332.3 117.9 330.3 118.3 325.3 118.7 328.7 119.1 331.2 119.6 332.8 120.2 333.4 120.8 333.9 121.2 333.9 122.5 333.8 123.1 331.9 123.6 330.1 124.0 325.3 124.4 330.5 124.8 331.3 125.3 332.3 125.9 333.5 126.5 333.9 126.9 333.9 128.2 333.8 128.8 333.4 129.3 332.1 129.7 330.8 130.1 332.3 130.5 333.0 131.1 333.6 131.6 333.8 132.2 333.9 132.6 333.9 133.9 333.8 134.5 332.7 135.0 331.3 135.4 329.0 135.8 330.9 136.2 332.3 136.8 333.3 137.3 333.7 137.9 333.9 138.4 333.9 139.6 333.8 140.2 331.8 140.7 329.3 141.1 323.8 141.5 327.8 141.9 330.2 142.5 332.8 143.0 333.4 143.6 333.9 144.1 333.9 145.3 333.8 145.9 332.2 146.4 328.8 146.8 325.3 147.2 329.4 147.6 331.5 148.2 332.6 148.7 333.5 149.3 333.9 149.8 333.9 151.0 333.8 151.6 333.4 152.1 331.9 152.6 330.8 153.0 332.2 153.3 333.0 153.9 333.5 154.4 333.8 155.0 333.9 155.5 333.9 156.7 333.8 157.3 328.8 157.8 319.9 158.3 310.0 158.7 324.3 159.1 325.2 159.6 330.2 160.1 332.9 160.7 333.9 161.2 333.9 162.4 333.8 163.0 332.9 163.5 331.1 164.0 329.0 164.4 331.2 164.8 332.5 165.3 333.3 165.8 333.7 166.4 333.9 166.9 333.9 168.1 333.8 168.7 331.1 169.2 327.4 169.7 322.4 170.1 327.0 170.5 330.1 171.0 332.5 171.5 333.3 172.1 333.9 172.6 333.9 173.8 333.8 174.4 333.1 174.9 330.7 175.4 329.0 175.8 331.2 176.2 332.6 176.7 333.3 177.2 333.6 177.8 333.9 178.3 333.9 179.5 333.8 180.1 333.3 180.6 332.0 181.1 329.9 181.5 332.4 181.9 332.4 182.4 333.2 182.9 333.7 183.5 333.9 184.0 333.9 185.2 333.8 185.8 332.8 186.3 331.6 186.8 329.0 187.2 331.1 187.6 331.8 188.1 333.1 188.7 333.7 189.2 333.9 189.7 333.9 190.9 333.8 191.5 331.9 192.0 326.2 192.5 322.4 192.9 327.6 193.3 330.1 193.8 332.4 194.4 333.5 194.9 333.9 195.4 333.9 196.6 333.8 197.2 332.0 197.7 328.9 198.2 325.3 198.6 330.4 199.0 331.5 199.5 332.3 200.1 333.4 200.6 333.9 201.1 333.9 202.3 333.8 202.9 333.2 203.4 331.7 203.9 329.0 204.3 331.0 204.7 332.3 205.2 333.1 205.8 333.7 206.3 333.9 206.8 333.9 208.0 333.8 208.6 332.3 209.1 328.1 209.6 325.3 210.0 330.0 210.4 330.2 210.9 332.4 211.5 333.6 212.0 333.9 212.5 333.9 213.7 333.8 214.3 331.1 214.8 326.2 215.3 322.4 215.7 329.3 216.1 329.8 216.6 332.2 217.2 333.4 217.7 333.9 218.2 333.9M219.4 333.8 220.0 331.9 220.5 327.8 221.0 324.7 221.4 328.4 221.8 330.2 222.3 332.6 222.9 333.4 223.4 333.9M225.2 333.8 225.7 333.0 226.2 331.9 226.7 329.9 227.1 331.7 227.5 332.6 228.0 333.2 228.6 333.7 229.1 333.9M230.9 333.8 231.4 332.9 231.9 331.3 232.4 329.0 232.8 331.9 233.2 332.2 233.7 333.1 234.3 333.7 234.8 333.9M236.6 333.8 237.1 332.9 237.6 331.4 238.1 329.9 238.5 332.3 238.9 332.5 239.4 333.3 240.0 333.8 240.5 333.9M242.3 333.8 242.8 331.8 243.3 328.8 243.8 325.3 244.2 330.0 244.6 330.7 245.1 332.5 245.7 333.4 246.3 333.9M248.0 333.8 248.5 331.9 249.0 329.0 249.5 325.3 249.9 329.6 250.3 330.8 250.8 332.8 251.4 333.6 252.0 333.9M253.7 333.8 254.2 332.2 254.7 329.2 255.2 326.1 255.6 330.8 256.0 331.4 256.5 332.9 257.1 333.6 257.7 333.9M259.4 333.8 259.9 332.2 260.5 329.9 260.9 326.1 261.3 330.4 261.7 330.9 262.2 332.6 262.8 333.6 263.4 333.9M265.1 333.8 265.6 331.1 266.2 327.2 266.6 320.1 267.0 327.8 267.4 329.7 267.9 332.1 268.5 333.3 269.1 333.9M270.8 333.8 271.3 332.7 271.9 328.8 272.3 326.1 272.7 330.0 273.1 331.5 273.6 332.8 274.2 333.5 274.8 333.9M276.5 333.8 277.0 333.3 277.6 331.3 278.0 329.9 278.4 332.1 278.8 332.9 279.3 333.2 279.9 333.7 280.5 333.9M282.2 333.8 282.8 332.7 283.3 331.8 283.7 329.0 284.1 331.9 284.5 332.1 285.0 333.3 285.6 333.6 286.2 333.9M287.9 333.8 288.5 332.9 289.0 330.2 289.4 328.5 289.8 331.3 290.2 331.9 290.7 333.2 291.3 333.7 291.9 333.9M293.6 333.8 294.2 332.6 294.7 330.8 295.1 327.6 295.5 330.6 295.9 331.9 296.4 333.0 297.0 333.7 297.6 333.9M299.3 333.8 299.9 332.1 300.4 328.8 300.8 323.8 301.2 328.9 301.6 329.5 302.1 332.0 302.7 333.4 303.3 333.9M305.0 333.8 305.6 333.0 306.1 331.4 306.5 329.9 306.9 331.5 307.3 332.4 307.8 333.4 308.4 333.7 309.0 333.9M310.7 333.8 311.3 332.6 311.8 330.8 312.2 327.0 312.6 331.1 313.0 331.2 313.5 333.0 314.1 333.6 314.7 333.9M316.4 333.8 317.0 332.2 317.5 329.3 317.9 324.7 318.3 329.2 318.7 331.1 319.3 332.8 319.8 333.4 320.4 333.9M322.1 333.8 322.7 333.2 323.2 330.7 323.6 329.0 324.0 330.9 324.4 332.5 325.0 333.1 325.5 333.6 326.1 333.9M327.8 333.8 328.4 333.1 328.9 330.6 329.3 329.0 329.7 331.6 330.1 332.6 330.7 333.4 331.2 333.7 331.8 333.9M333.5 333.8 334.1 331.3 334.6 325.2 335.0 319.2 335.4 326.3 335.8 328.0 336.4 331.6 336.9 333.2 337.5 333.9M339.2 333.8 339.8 332.1 340.3 326.5 340.8 322.4 341.1 328.7 341.5 329.1 342.1 332.6 342.6 333.4 343.2 333.9M344.9 333.8 345.5 331.0 346.0 326.2 346.5 321.5 346.9 329.0 347.3 329.1 347.8 331.8 348.3 333.2 348.9 333.9M350.6 333.8 351.2 332.7 351.7 331.3 352.2 328.5 352.6 331.3 353.0 331.7 353.5 333.0 354.0 333.7 354.6 333.9M356.3 333.8 356.9 333.2 357.4 331.9 357.9 329.9 358.3 332.3 358.7 332.6 359.2 333.4 359.7 333.7 360.3 333.9M362.0 333.8 362.6 333.5 363.1 332.2 363.6 331.3 364.0 332.4 364.4 333.1 364.9 333.6 365.4 333.8 366.0 333.9M373.4 333.8 374.0 332.8 374.5 331.4 375.0 328.5 375.4 330.7 375.8 331.8 376.3 333.3 376.9 333.7 377.4 333.9M379.1 333.8 379.7 331.8 380.2 327.1 380.7 321.5 381.1 328.3 381.5 330.1 382.0 332.4 382.6 333.2 383.1 333.9M384.8 333.8 385.4 332.3 385.9 330.3 386.4 325.3 386.8 329.5 387.2 330.2 387.7 332.7 388.3 333.4 388.8 333.9M390.5 333.8 391.1 333.4 391.6 332.3 392.1 331.3 392.5 332.8 392.9 333.2 393.4 333.5 394.0 333.8 394.5 333.9" stroke="#000000" stroke-width="0.8" fill="none" stroke-linejoin="round"/>
<path d="M33.80 334.50H36.00" stroke="#333" stroke-width="0.55"/>
<text x="32.40" y="337.10" text-anchor="end" class="t">0</text>
<path d="M33.80 320.10H36.00" stroke="#333" stroke-width="0.55"/>
<text x="32.40" y="322.70" text-anchor="end" class="t">125</text>
<path d="M33.80 305.70H36.00" stroke="#333" stroke-width="0.55"/>
<text x="32.40" y="308.30" text-anchor="end" class="t">250</text>
<text transform="translate(10.8 320.80) rotate(-90)" text-anchor="middle" class="s">07AF002</text>
<path d="M41.40 338.50V375.50M98.43 338.50V375.50M155.46 338.50V375.50M212.49 338.50V375.50M269.52 338.50V375.50M326.55 338.50V375.50M383.58 338.50V375.50M36.00 371.50H401.00M36.00 357.10H401.00M36.00 342.70H401.00" stroke="#D6D6D6" stroke-width="0.9" fill="none"/>
<path d="M41.4 370.2 42.7 369.9 43.2 368.9 43.7 366.2 44.2 362.9 44.6 366.4 45.0 368.1 45.5 369.1 46.1 369.8 46.6 370.2 47.1 370.2 48.4 369.9 48.9 369.5 49.4 368.2 49.9 366.6 50.3 368.1 50.7 369.0 51.2 369.7 51.8 370.0 52.3 370.2 52.8 370.2 54.1 369.9 54.6 369.5 55.1 367.5 55.6 366.0 56.0 367.7 56.4 368.7 56.9 369.6 57.5 370.0 58.1 370.2 58.5 370.2 59.8 369.9 60.3 369.6 60.8 368.0 61.3 366.6 61.7 368.2 62.1 368.9 62.6 369.8 63.2 370.0 63.8 370.2 64.2 370.2 65.5 369.9 66.0 368.2 66.6 364.8 67.0 362.0 67.4 365.8 67.8 367.4 68.3 369.0 68.9 369.9 69.5 370.2 69.9 370.2 71.2 369.9 71.7 368.7 72.3 363.7 72.7 360.6 73.1 365.6 73.5 367.0 74.0 368.8 74.6 369.6 75.2 370.2 75.6 370.2 76.9 369.9 77.4 368.2 78.0 365.3 78.4 362.0 78.8 365.5 79.2 367.3 79.7 368.9 80.3 369.7 80.9 370.2 81.3 370.2 82.6 369.9 83.1 368.4 83.7 366.7 84.1 362.0 84.5 366.2 84.9 367.2 85.4 368.9 86.0 369.7 86.6 370.2 87.0 370.2 88.3 369.9 88.8 369.1 89.4 367.5 89.8 365.2 90.2 367.7 90.6 368.2 91.1 369.4 91.7 370.0 92.3 370.2 92.7 370.2 94.0 369.9 94.6 368.8 95.1 365.9 95.5 362.9 95.9 366.5 96.3 367.4 96.8 368.9 97.4 369.9 98.0 370.2 98.4 370.2 99.7 369.9 100.3 369.2 100.8 367.8 101.2 365.2 101.6 367.3 102.0 368.3 102.5 369.4 103.1 370.0 103.7 370.2 104.1 370.2 105.4 369.9 106.0 369.0 106.5 366.7 106.9 362.9 107.3 367.0 107.7 367.3 108.2 369.1 108.8 369.8 109.4 370.2 109.8 370.2 111.1 369.9 111.7 367.9 112.2 365.5 112.6 360.6 113.0 366.2 113.4 366.4 113.9 368.8 114.5 369.6 115.1 370.2 115.5 370.2 116.8 369.9 117.4 368.9 117.9 367.0 118.3 363.4 118.7 366.1 119.1 367.5 119.6 369.0 120.2 369.8 120.8 370.2 121.2 370.2 122.5 369.9 123.1 368.5 123.6 365.8 124.0 363.4 124.4 367.6 124.8 368.3 125.3 369.4 125.9 369.8 126.5 370.2 126.9 370.2 128.2 369.9 128.8 369.7 129.3 368.5 129.7 367.5 130.1 369.1 130.5 369.4 131.1 369.7 131.6 370.1 132.2 370.2 132.6 370.2 133.9 369.9 134.5 369.6 135.0 368.6 135.4 366.6 135.8 368.1 136.2 368.7 136.8 369.8 137.3 370.0 137.9 370.2 138.4 370.2 139.6 369.9 140.2 369.1 140.7 366.7 141.1 363.4 141.5 366.6 141.9 367.5 142.5 369.0 143.0 369.9 143.6 370.2 144.1 370.2 145.3 369.9 145.9 368.9 146.4 366.9 146.8 362.9 147.2 367.3 147.6 367.4 148.2 369.3 148.7 369.9 149.3 370.2 149.8 370.2 151.0 369.9 151.6 369.4 152.1 367.9 152.6 366.6 153.0 368.4 153.3 368.8 153.9 369.6 154.4 370.0 155.0 370.2 155.5 370.2 156.7 369.9 157.3 368.9 157.8 365.2 158.3 362.9 158.7 367.0 159.1 367.1 159.6 369.3 160.1 369.9 160.7 370.2 161.2 370.2 162.4 369.9 163.0 369.4 163.5 368.5 164.0 366.6 164.4 368.0 164.8 368.9 165.3 369.6 165.8 370.0 166.4 370.2 166.9 370.2 168.1 369.9 168.7 369.4 169.2 368.6 169.7 366.6 170.1 368.5 170.5 369.1 171.0 369.7 171.5 370.1 172.1 370.2 172.6 370.2 173.8 369.9 174.4 369.8 174.9 368.7 175.4 367.5 175.8 368.5 176.2 369.2 176.7 369.8 177.2 370.0 177.8 370.2 178.3 370.2 179.5 369.9M183.5 370.2 184.0 370.2 185.2 369.9M189.2 370.2 189.7 370.2 190.9 369.9M194.9 370.2 195.4 370.2 196.6 369.9M200.6 370.2 201.1 370.2 202.3 369.9M206.3 370.2 206.8 370.2 208.0 369.9M212.0 370.2 212.5 370.2 213.7 369.9M217.7 370.2 218.2 370.2 219.4 369.9M223.4 370.2 223.9 370.2 225.2 369.9M229.1 370.2 229.6 370.2 230.9 369.9M234.8 370.2 235.3 370.2 236.6 369.9M240.5 370.2 241.0 370.2 242.3 369.9M246.3 370.2 246.7 370.2 248.0 369.9M252.0 370.2 252.4 370.2 253.7 369.9M257.7 370.2 258.1 370.2 259.4 369.9M263.4 370.2 263.8 370.2 265.1 369.9M269.1 370.2 269.5 370.2 270.8 369.9M274.8 370.2 275.2 370.2 276.5 369.9M280.5 370.2 280.9 370.2 282.2 369.9M286.2 370.2 286.6 370.2 287.9 369.9M291.9 370.2 292.3 370.2 293.6 369.9M297.6 370.2 298.0 370.2 299.3 369.9M303.3 370.2 303.7 370.2 305.0 369.9M309.0 370.2 309.4 370.2 310.7 369.9M314.7 370.2 315.1 370.2 316.4 369.9M320.4 370.2 320.8 370.2 322.1 369.9M326.1 370.2 326.6 370.2 327.8 369.9M331.8 370.2 332.3 370.2 333.5 369.9M337.5 370.2 338.0 370.2 339.2 369.9M343.2 370.2 343.7 370.2 344.9 369.9M348.9 370.2 349.4 370.2 350.6 369.9M354.6 370.2 355.1 370.2 356.3 369.9M360.3 370.2 360.8 370.2 362.0 369.9 362.6 369.6 363.1 368.4 363.6 366.6 364.0 368.7 364.4 369.1 364.9 369.6 365.4 370.0 366.0 370.2 366.5 370.2 367.7 369.9 368.3 368.7 368.8 366.3 369.3 362.0 369.7 366.2 370.1 368.0 370.6 369.0 371.1 369.7 371.7 370.2 372.2 370.2 373.4 369.9M377.4 370.2 377.9 370.2 379.1 369.9M383.1 370.2 383.6 370.2 384.8 369.9M388.8 370.2 389.3 370.2 390.5 369.9M394.5 370.2 395.0 370.2" stroke="#3C78D8" stroke-width="0.8" fill="none" stroke-linejoin="round"/>
<path d="M179.5 369.9 180.1 369.0 180.6 366.8 181.1 364.3 181.5 367.1 181.9 368.1 182.4 369.5 182.9 370.0 183.5 370.2M185.2 369.9 185.8 369.0 186.3 367.5 186.8 365.2 187.2 367.3 187.6 368.8 188.1 369.4 188.7 369.9 189.2 370.2M190.9 369.9 191.5 368.9 192.0 364.2 192.5 361.4 192.9 366.1 193.3 367.1 193.8 368.8 194.4 369.7 194.9 370.2M196.6 369.9 197.2 368.7 197.7 364.7 198.2 362.0 198.6 366.5 199.0 368.0 199.5 369.3 200.1 369.7 200.6 370.2M202.3 369.9 202.9 369.4 203.4 367.9 203.9 365.7 204.3 367.9 204.7 368.6 205.2 369.6 205.8 370.0 206.3 370.2M208.0 369.9 208.6 368.5 209.1 366.6 209.6 362.0 210.0 365.7 210.4 367.0 210.9 368.8 211.5 369.8 212.0 370.2M213.7 369.9 214.3 368.3 214.8 364.7 215.3 357.4 215.7 362.6 216.1 366.3 216.6 367.8 217.2 369.4 217.7 370.2M219.4 369.9 220.0 368.3 220.5 365.2 221.0 362.0 221.4 367.0 221.8 366.8 222.3 369.0 222.9 369.7 223.4 370.2M225.2 369.9 225.7 369.3 226.2 368.7 226.7 366.6 227.1 368.5 227.5 369.1 228.0 369.8 228.6 370.0 229.1 370.2M230.9 369.9 231.4 369.1 231.9 367.3 232.4 365.2 232.8 367.4 233.2 368.4 233.7 369.6 234.3 369.9 234.8 370.2M236.6 369.9 237.1 369.1 237.6 367.1 238.1 365.2 238.5 367.3 238.9 368.6 239.4 369.4 240.0 369.9 240.5 370.2M242.3 369.9 242.8 368.8 243.3 365.2 243.8 362.9 244.2 366.8 244.6 367.6 245.1 369.1 245.7 369.8 246.3 370.2M248.0 369.9 248.5 368.5 249.0 365.7 249.5 362.9 249.9 366.2 250.3 367.5 250.8 369.0 251.4 369.9 252.0 370.2M253.7 369.9 254.2 369.1 254.7 366.6 255.2 363.4 255.6 366.0 256.0 368.3 256.5 369.1 257.1 369.9 257.7 370.2M259.4 369.9 259.9 369.2 260.5 366.1 260.9 363.4 261.3 366.5 261.7 368.1 262.2 369.1 262.8 369.9 263.4 370.2M265.1 369.9 265.6 367.2 266.2 361.0 266.6 355.1 267.0 361.5 267.4 364.2 267.9 367.8 268.5 369.3 269.1 370.2M270.8 369.9 271.3 368.5 271.9 366.0 272.3 363.4 272.7 367.2 273.1 368.2 273.6 369.1 274.2 369.8 274.8 370.2M276.5 369.9 277.0 369.3 277.6 367.8 278.0 366.6 278.4 368.5 278.8 369.2 279.3 369.6 279.9 370.0 280.5 370.2M282.2 369.9 282.8 369.4 283.3 368.5 283.7 366.6 284.1 368.3 284.5 368.9 285.0 369.8 285.6 370.1 286.2 370.2M287.9 369.9 288.5 369.2 289.0 367.2 289.4 365.2 289.8 367.3 290.2 368.7 290.7 369.3 291.3 370.0 291.9 370.2M293.6 369.9 294.2 368.5 294.7 367.0 295.1 363.4 295.5 366.6 295.9 367.4 296.4 369.3 297.0 369.9 297.6 370.2M299.3 369.9 299.9 367.7 300.4 363.7 300.8 359.7 301.2 364.2 301.6 367.3 302.1 368.3 302.7 369.7 303.3 370.2M305.0 369.9 305.6 369.4 306.1 367.3 306.5 365.7 306.9 368.0 307.3 368.4 307.8 369.4 308.4 370.0 309.0 370.2M310.7 369.9 311.3 369.0 311.8 366.2 312.2 363.4 312.6 367.5 313.0 368.2 313.5 369.1 314.1 369.8 314.7 370.2M316.4 369.9 317.0 368.8 317.5 366.5 317.9 362.0 318.3 365.5 318.7 367.5 319.3 369.0 319.8 369.8 320.4 370.2M322.1 369.9 322.7 368.9 323.2 367.2 323.6 365.2 324.0 367.8 324.4 368.5 325.0 369.3 325.5 369.9 326.1 370.2M327.8 369.9 328.4 369.2 328.9 367.8 329.3 365.2 329.7 367.3 330.1 368.8 330.7 369.5 331.2 370.0 331.8 370.2M333.5 369.9 334.1 367.4 334.6 362.8 335.0 353.6 335.4 363.2 335.8 363.6 336.4 368.3 336.9 369.4 337.5 370.2M339.2 369.9 339.8 368.1 340.3 364.4 340.8 356.5 341.1 363.9 341.5 365.8 342.1 367.7 342.6 369.6 343.2 370.2M344.9 369.9 345.5 367.1 346.0 361.4 346.5 357.4 346.9 363.8 347.3 365.8 347.8 367.9 348.3 369.4 348.9 370.2M350.6 369.9 351.2 368.7 351.7 367.4 352.2 364.3 352.6 367.5 353.0 368.1 353.5 369.3 354.0 369.9 354.6 370.2M356.3 369.9 356.9 369.6 357.4 368.3 357.9 366.6 358.3 368.1 358.7 369.0 359.2 369.7 359.7 370.0 360.3 370.2M373.4 369.9 374.0 368.4 374.5 366.5 375.0 362.9 375.4 367.3 375.8 368.2 376.3 369.2 376.9 369.9 377.4 370.2M379.1 369.9 379.7 368.0 380.2 365.6 380.7 360.6 381.1 365.6 381.5 367.1 382.0 368.8 382.6 369.7 383.1 370.2M384.8 369.9 385.4 367.7 385.9 363.2 386.4 359.7 386.8 364.8 387.2 365.6 387.7 368.8 388.3 369.6 388.8 370.2M390.5 369.9 391.1 369.2 391.6 366.9 392.1 365.2 392.5 367.6 392.9 368.1 393.4 369.3 394.0 370.0 394.5 370.2" stroke="#000000" stroke-width="0.8" fill="none" stroke-linejoin="round"/>
<path d="M33.80 371.50H36.00" stroke="#333" stroke-width="0.55"/>
<text x="32.40" y="374.10" text-anchor="end" class="t">0</text>
<path d="M33.80 357.10H36.00" stroke="#333" stroke-width="0.55"/>
<text x="32.40" y="359.70" text-anchor="end" class="t">25</text>
<path d="M33.80 342.70H36.00" stroke="#333" stroke-width="0.55"/>
<text x="32.40" y="345.30" text-anchor="end" class="t">50</text>
<text transform="translate(10.8 357.80) rotate(-90)" text-anchor="middle" class="s">07AF013</text>
<path d="M41.40 375.50V412.50M98.43 375.50V412.50M155.46 375.50V412.50M212.49 375.50V412.50M269.52 375.50V412.50M326.55 375.50V412.50M383.58 375.50V412.50M36.00 408.50H401.00M36.00 394.10H401.00M36.00 379.70H401.00" stroke="#D6D6D6" stroke-width="0.9" fill="none"/>
<path d="M41.4 407.9 42.7 407.8 43.2 405.5 43.7 402.7 44.2 397.8 44.6 402.1 45.0 404.8 45.5 406.4 46.1 407.5 46.6 407.9 47.1 407.9 48.4 407.8 48.9 406.8 49.4 405.6 49.9 402.5 50.3 405.3 50.7 406.2 51.2 407.3 51.8 407.6 52.3 407.9 52.8 407.9 54.1 407.8 54.6 406.6 55.1 405.4 55.6 402.5 56.0 405.0 56.4 406.0 56.9 407.1 57.5 407.6 58.1 407.9 58.5 407.9 59.8 407.8 60.3 406.7 60.8 405.2 61.3 402.5 61.7 405.4 62.1 406.0 62.6 406.9 63.2 407.6 63.8 407.9 64.2 407.9 65.5 407.8 66.0 406.4 66.6 404.2 67.0 401.0 67.4 403.8 67.8 404.9 68.3 406.7 68.9 407.6 69.5 407.9 69.9 407.9 71.2 407.8 71.7 406.0 72.3 403.1 72.7 397.8 73.1 403.0 73.5 403.8 74.0 406.4 74.6 407.5 75.2 407.9 75.6 407.9 76.9 407.8 77.4 406.6 78.0 404.4 78.4 400.1 78.8 403.4 79.2 404.6 79.7 406.5 80.3 407.6 80.9 407.9 81.3 407.9 82.6 407.8 83.1 406.8 83.7 405.1 84.1 401.6 84.5 404.8 84.9 406.0 85.4 407.0 86.0 407.6 86.6 407.9 87.0 407.9 88.3 407.8 88.8 406.8 89.4 404.9 89.8 402.5 90.2 405.2 90.6 406.4 91.1 406.9 91.7 407.7 92.3 407.9 92.7 407.9 94.0 407.8 94.6 406.6 95.1 405.2 95.5 402.5 95.9 405.7 96.3 405.5 96.8 407.1 97.4 407.7 98.0 407.9 98.4 407.9 99.7 407.8 100.3 406.7 100.8 404.7 101.2 403.0 101.6 406.0 102.0 405.8 102.5 407.3 103.1 407.7 103.7 407.9 104.1 407.9 105.4 407.8 106.0 406.3 106.5 401.3 106.9 397.8 107.3 402.6 107.7 404.3 108.2 406.3 108.8 407.5 109.4 407.9 109.8 407.9 111.1 407.8 111.7 406.6 112.2 404.2 112.6 399.3 113.0 404.2 113.4 404.8 113.9 406.9 114.5 407.6 115.1 407.9 115.5 407.9 116.8 407.8 117.4 407.0 117.9 405.7 118.3 402.5 118.7 405.8 119.1 406.4 119.6 407.3 120.2 407.7 120.8 407.9 121.2 407.9 122.5 407.8 123.1 406.3 123.6 403.8 124.0 401.0 124.4 405.3 124.8 406.0 125.3 407.0 125.9 407.6 126.5 407.9 126.9 407.9 128.2 407.8 128.8 407.3 129.3 406.1 129.7 404.8 130.1 406.2 130.5 406.7 131.1 407.5 131.6 407.8 132.2 407.9 132.6 407.9 133.9 407.8 134.5 406.9 135.0 405.7 135.4 403.9 135.8 405.5 136.2 406.2 136.8 407.2 137.3 407.7 137.9 407.9 138.4 407.9 139.6 407.8 140.2 406.2 140.7 404.1 141.1 400.1 141.5 404.6 141.9 405.4 142.5 406.9 143.0 407.6 143.6 407.9 144.1 407.9 145.3 407.8 145.9 406.8 146.4 404.7 146.8 401.0 147.2 405.3 147.6 405.9 148.2 406.8 148.7 407.7 149.3 407.9 149.8 407.9 151.0 407.8 151.6 407.2 152.1 406.0 152.6 404.8 153.0 406.6 153.3 406.8 153.9 407.4 154.4 407.7 155.0 407.9 155.5 407.9 156.7 407.8 157.3 406.3 157.8 404.4 158.3 400.1 158.7 404.9 159.1 405.6 159.6 407.0 160.1 407.5 160.7 407.9 161.2 407.9 162.4 407.8 163.0 407.2 163.5 406.5 164.0 404.8 164.4 406.1 164.8 406.6 165.3 407.5 165.8 407.8 166.4 407.9 166.9 407.9 168.1 407.8 168.7 406.6 169.2 403.8 169.7 400.1 170.1 403.5 170.5 405.6 171.0 406.8 171.5 407.5 172.1 407.9 172.6 407.9 173.8 407.8 174.4 407.2 174.9 405.8 175.4 404.8 175.8 406.0 176.2 406.9 176.7 407.5 177.2 407.7 177.8 407.9 178.3 407.9 179.5 407.8M183.5 407.9 184.0 407.9 185.2 407.8M189.2 407.9 189.7 407.9 190.9 407.8M194.9 407.9 195.4 407.9 196.6 407.8M200.6 407.9 201.1 407.9 202.3 407.8M206.3 407.9 206.8 407.9 208.0 407.8M212.0 407.9 212.5 407.9 213.7 407.8M217.7 407.9 218.2 407.9 219.4 407.8M223.4 407.9 223.9 407.9 225.2 407.8M229.1 407.9 229.6 407.9 230.9 407.8M234.8 407.9 235.3 407.9 236.6 407.8M240.5 407.9 241.0 407.9 242.3 407.8M246.3 407.9 246.7 407.9 248.0 407.8M252.0 407.9 252.4 407.9 253.7 407.8M257.7 407.9 258.1 407.9 259.4 407.8M263.4 407.9 263.8 407.9 265.1 407.8M269.1 407.9 269.5 407.9 270.8 407.8M274.8 407.9 275.2 407.9 276.5 407.8M280.5 407.9 280.9 407.9 282.2 407.8M286.2 407.9 286.6 407.9 287.9 407.8M291.9 407.9 292.3 407.9 293.6 407.8M297.6 407.9 298.0 407.9 299.3 407.8M303.3 407.9 303.7 407.9 305.0 407.8M309.0 407.9 309.4 407.9 310.7 407.8M314.7 407.9 315.1 407.9 316.4 407.8M320.4 407.9 320.8 407.9 322.1 407.8M326.1 407.9 326.6 407.9 327.8 407.8M331.8 407.9 332.3 407.9 333.5 407.8M337.5 407.9 338.0 407.9 339.2 407.8M343.2 407.9 343.7 407.9 344.9 407.8M348.9 407.9 349.4 407.9 350.6 407.8M354.6 407.9 355.1 407.9 356.3 407.8M360.3 407.9 360.8 407.9 362.0 407.8 362.6 407.3 363.1 406.5 363.6 405.3 364.0 406.9 364.4 407.1 364.9 407.5 365.4 407.8 366.0 407.9 366.5 407.9 367.7 407.8 368.3 406.0 368.8 403.1 369.3 397.8 369.7 403.9 370.1 403.6 370.6 406.2 371.1 407.4 371.7 407.9 372.2 407.9 373.4 407.8M377.4 407.9 377.9 407.9 379.1 407.8M383.1 407.9 383.6 407.9 384.8 407.8M388.8 407.9 389.3 407.9 390.5 407.8M394.5 407.9 395.0 407.9" stroke="#3C78D8" stroke-width="0.8" fill="none" stroke-linejoin="round"/>
<path d="M179.5 407.8 180.1 407.3 180.6 406.3 181.1 405.3 181.5 406.6 181.9 406.8 182.4 407.6 182.9 407.8 183.5 407.9M185.2 407.8 185.8 407.0 186.3 406.0 186.8 403.9 187.2 405.8 187.6 406.5 188.1 407.3 188.7 407.7 189.2 407.9M190.9 407.8 191.5 405.4 192.0 402.0 192.5 397.6 192.9 404.0 193.3 404.6 193.8 406.4 194.4 407.3 194.9 407.9M196.6 407.8 197.2 406.0 197.7 401.7 198.2 398.7 198.6 403.7 199.0 405.4 199.5 406.6 200.1 407.4 200.6 407.9M202.3 407.8 202.9 407.1 203.4 405.3 203.9 403.9 204.3 405.6 204.7 406.2 205.2 407.3 205.8 407.8 206.3 407.9M208.0 407.8 208.6 406.5 209.1 404.9 209.6 401.0 210.0 404.7 210.4 405.8 210.9 407.0 211.5 407.6 212.0 407.9M213.7 407.8 214.3 405.9 214.8 401.7 215.3 398.7 215.7 402.5 216.1 404.2 216.6 406.8 217.2 407.4 217.7 407.9M219.4 407.8 220.0 406.5 220.5 403.8 221.0 400.1 221.4 404.8 221.8 405.3 222.3 406.5 222.9 407.5 223.4 407.9M225.2 407.8 225.7 407.2 226.2 406.5 226.7 404.8 227.1 406.1 227.5 406.9 228.0 407.5 228.6 407.8 229.1 407.9M230.9 407.8 231.4 407.6 231.9 407.1 232.4 406.2 232.8 406.9 233.2 407.3 233.7 407.7 234.3 407.8 234.8 407.9M236.6 407.8 237.1 407.4 237.6 406.5 238.1 404.8 238.5 406.7 238.9 406.9 239.4 407.4 240.0 407.8 240.5 407.9M242.3 407.8 242.8 406.1 243.3 401.3 243.8 397.8 244.2 403.6 244.6 404.4 245.1 406.1 245.7 407.4 246.3 407.9M248.0 407.8 248.5 406.5 249.0 404.1 249.5 400.1 249.9 404.5 250.3 405.4 250.8 406.5 251.4 407.5 252.0 407.9M253.7 407.8 254.2 406.4 254.7 402.7 255.2 400.1 255.6 404.2 256.0 405.6 256.5 406.7 257.1 407.6 257.7 407.9M259.4 407.8 259.9 406.2 260.5 405.1 260.9 401.0 261.3 404.7 261.7 406.1 262.2 407.0 262.8 407.5 263.4 407.9M265.1 407.8 265.6 405.5 266.2 398.7 266.6 393.2 267.0 400.0 267.4 403.9 267.9 405.2 268.5 407.4 269.1 407.9M270.8 407.8 271.3 406.1 271.9 402.7 272.3 400.1 272.7 404.2 273.1 405.4 273.6 406.8 274.2 407.5 274.8 407.9M276.5 407.8 277.0 407.1 277.6 406.1 278.0 403.9 278.4 406.3 278.8 406.8 279.3 407.4 279.9 407.8 280.5 407.9M282.2 407.8 282.8 406.8 283.3 405.5 283.7 402.5 284.1 404.9 284.5 406.2 285.0 406.9 285.6 407.7 286.2 407.9M287.9 407.8 288.5 406.8 289.0 405.0 289.4 402.5 289.8 404.9 290.2 406.5 290.7 407.2 291.3 407.6 291.9 407.9M293.6 407.8 294.2 407.0 294.7 405.4 295.1 403.0 295.5 406.0 295.9 406.1 296.4 407.0 297.0 407.7 297.6 407.9M299.3 407.8 299.9 405.4 300.4 402.0 300.8 397.8 301.2 404.1 301.6 404.2 302.1 406.4 302.7 407.3 303.3 407.9M305.0 407.8 305.6 406.8 306.1 405.0 306.5 403.0 306.9 405.9 307.3 406.3 307.8 407.1 308.4 407.7 309.0 407.9M310.7 407.8 311.3 406.8 311.8 405.5 312.2 402.5 312.6 405.1 313.0 406.4 313.5 407.3 314.1 407.6 314.7 407.9M316.4 407.8 317.0 406.3 317.5 403.9 317.9 399.3 318.3 403.7 318.7 405.5 319.3 406.5 319.8 407.4 320.4 407.9M322.1 407.8 322.7 407.0 323.2 405.3 323.6 403.9 324.0 405.7 324.4 406.2 325.0 407.3 325.5 407.8 326.1 407.9M327.8 407.8 328.4 407.2 328.9 406.2 329.3 403.9 329.7 406.2 330.1 406.8 330.7 407.4 331.2 407.7 331.8 407.9M333.5 407.8 334.1 405.2 334.6 400.5 335.0 393.2 335.4 402.0 335.8 402.1 336.4 406.0 336.9 407.0 337.5 407.9M339.2 407.8 339.8 406.3 340.3 403.7 340.8 397.8 341.1 402.1 341.5 404.4 342.1 406.1 342.6 407.4 343.2 407.9M344.9 407.8 345.5 405.5 346.0 402.6 346.5 397.0 346.9 402.0 347.3 404.9 347.8 405.9 348.3 407.3 348.9 407.9M350.6 407.8 351.2 406.9 351.7 405.7 352.2 403.0 352.6 405.8 353.0 406.2 353.5 407.3 354.0 407.6 354.6 407.9M356.3 407.8 356.9 407.2 357.4 406.2 357.9 404.8 358.3 406.5 358.7 406.8 359.2 407.3 359.7 407.8 360.3 407.9M373.4 407.8 374.0 406.8 374.5 405.3 375.0 403.0 375.4 405.8 375.8 406.6 376.3 407.1 376.9 407.7 377.4 407.9M379.1 407.8 379.7 404.2 380.2 400.8 380.7 392.4 381.1 398.5 381.5 402.8 382.0 405.4 382.6 407.3 383.1 407.9M384.8 407.8 385.4 406.2 385.9 401.6 386.4 397.8 386.8 402.8 387.2 404.3 387.7 406.5 388.3 407.4 388.8 407.9M390.5 407.8 391.1 407.5 391.6 406.8 392.1 406.2 392.5 406.9 392.9 407.3 393.4 407.7 394.0 407.8 394.5 407.9" stroke="#000000" stroke-width="0.8" fill="none" stroke-linejoin="round"/>
<path d="M33.80 408.50H36.00" stroke="#333" stroke-width="0.55"/>
<text x="32.40" y="411.10" text-anchor="end" class="t">0</text>
<path d="M33.80 394.10H36.00" stroke="#333" stroke-width="0.55"/>
<text x="32.40" y="396.70" text-anchor="end" class="t">25</text>
<path d="M33.80 379.70H36.00" stroke="#333" stroke-width="0.55"/>
<text x="32.40" y="382.30" text-anchor="end" class="t">50</text>
<text transform="translate(10.8 394.80) rotate(-90)" text-anchor="middle" class="s">07AF014</text>
<path d="M41.40 412.50V449.50M98.43 412.50V449.50M155.46 412.50V449.50M212.49 412.50V449.50M269.52 412.50V449.50M326.55 412.50V449.50M383.58 412.50V449.50M36.00 445.50H401.00M36.00 431.10H401.00M36.00 416.70H401.00" stroke="#D6D6D6" stroke-width="0.9" fill="none"/>
<path d="M41.4 444.2 42.7 443.9 43.2 443.4 43.7 442.5 44.2 440.6 44.6 442.0 45.0 442.9 45.5 443.7 46.1 444.0 46.6 444.2 47.1 444.2 48.4 443.9 48.9 444.0 49.4 443.6 49.9 442.9 50.3 443.6 50.7 443.8 51.2 444.0 51.8 444.1 52.3 444.2 52.8 444.2 54.1 443.9 54.6 443.7 55.1 442.9 55.6 441.5 56.0 443.0 56.4 443.1 56.9 443.7 57.5 444.1 58.1 444.2 58.5 444.2 59.8 443.9 60.3 443.4 60.8 442.4 61.3 440.6 61.7 442.2 62.1 443.1 62.6 443.6 63.2 444.0 63.8 444.2 64.2 444.2 65.5 443.9 66.0 442.5 66.6 439.6 67.0 436.9 67.4 441.3 67.8 442.1 68.3 443.1 68.9 443.9 69.5 444.2 69.9 444.2 71.2 443.9 71.7 442.5 72.3 437.7 72.7 434.6 73.1 438.3 73.5 441.6 74.0 443.1 74.6 443.7 75.2 444.2 75.6 444.2 76.9 443.9 77.4 442.2 78.0 438.8 78.4 436.0 78.8 439.7 79.2 441.0 79.7 443.0 80.3 443.8 80.9 444.2 81.3 444.2 82.6 443.9 83.1 442.5 83.7 441.0 84.1 436.9 84.5 440.2 84.9 441.4 85.4 443.3 86.0 443.8 86.6 444.2 87.0 444.2 88.3 443.9 88.8 443.6 89.4 441.8 89.8 440.6 90.2 442.2 90.6 443.0 91.1 443.6 91.7 444.0 92.3 444.2 92.7 444.2 94.0 443.9 94.6 442.6 95.1 440.1 95.5 435.4 95.9 439.4 96.3 440.5 96.8 443.1 97.4 443.7 98.0 444.2 98.4 444.2 99.7 443.9 100.3 443.5 100.8 442.0 101.2 440.6 101.6 442.4 102.0 442.7 102.5 443.6 103.1 444.0 103.7 444.2 104.1 444.2 105.4 443.9 106.0 441.8 106.5 439.9 106.9 434.6 107.3 438.3 107.7 440.4 108.2 443.0 108.8 443.7 109.4 444.2 109.8 444.2 111.1 443.9 111.7 442.9 112.2 441.1 112.6 436.9 113.0 441.3 113.4 441.8 113.9 442.9 114.5 443.9 115.1 444.2 115.5 444.2 116.8 443.9 117.4 442.8 117.9 439.8 118.3 437.4 118.7 441.1 119.1 441.6 119.6 443.1 120.2 443.8 120.8 444.2 121.2 444.2 122.5 443.9 123.1 443.0 123.6 440.2 124.0 438.3 124.4 441.4 124.8 442.4 125.3 443.5 125.9 443.9 126.5 444.2 126.9 444.2 128.2 443.9 128.8 444.0 129.3 443.3 129.7 442.9 130.1 443.7 130.5 443.7 131.1 444.0 131.6 444.1 132.2 444.2 132.6 444.2 133.9 443.9 134.5 443.8 135.0 442.9 135.4 441.5 135.8 442.5 136.2 443.3 136.8 443.7 137.3 444.1 137.9 444.2 138.4 444.2 139.6 443.9 140.2 443.2 140.7 440.7 141.1 437.4 141.5 441.1 141.9 442.2 142.5 443.1 143.0 443.9 143.6 444.2 144.1 444.2 145.3 443.9 145.9 442.8 146.4 440.8 146.8 437.4 147.2 441.0 147.6 442.1 148.2 443.2 148.7 443.9 149.3 444.2 149.8 444.2 151.0 443.9 151.6 443.7 152.1 442.7 152.6 442.0 153.0 443.2 153.3 443.4 153.9 443.9 154.4 444.1 155.0 444.2 155.5 444.2 156.7 443.9 157.3 441.5 157.8 436.5 158.3 430.8 158.7 437.3 159.1 440.4 159.6 441.8 160.1 443.7 160.7 444.2 161.2 444.2 162.4 443.9 163.0 443.6 163.5 442.2 164.0 440.6 164.4 442.0 164.8 442.8 165.3 443.6 165.8 444.0 166.4 444.2 166.9 444.2 168.1 443.9 168.7 442.4 169.2 439.1 169.7 435.4 170.1 440.4 170.5 441.8 171.0 443.0 171.5 443.9 172.1 444.2 172.6 444.2 173.8 443.9 174.4 443.5 174.9 442.1 175.4 439.7 175.8 441.6 176.2 442.6 176.7 443.5 177.2 444.0 177.8 444.2 178.3 444.2 179.5 443.9 180.1 443.9 180.6 443.4 181.1 442.9 181.5 443.6 181.9 443.8 182.4 444.0 182.9 444.2 183.5 444.2 184.0 444.2 185.2 443.9 185.8 443.9 186.3 443.2 186.8 442.0 187.2 443.1 187.6 443.6 188.1 443.9 188.7 444.1 189.2 444.2 189.7 444.2 190.9 443.9M194.9 444.2 195.4 444.2 196.6 443.9M200.6 444.2 201.1 444.2 202.3 443.9M206.3 444.2 206.8 444.2 208.0 443.9M212.0 444.2 212.5 444.2 213.7 443.9M217.7 444.2 218.2 444.2 219.4 443.9M223.4 444.2 223.9 444.2 225.2 443.9M229.1 444.2 229.6 444.2 230.9 443.9M234.8 444.2 235.3 444.2 236.6 443.9M240.5 444.2 241.0 444.2 242.3 443.9M246.3 444.2 246.7 444.2 248.0 443.9M252.0 444.2 252.4 444.2 253.7 443.9M257.7 444.2 258.1 444.2 259.4 443.9M263.4 444.2 263.8 444.2 265.1 443.9M269.1 444.2 269.5 444.2 270.8 443.9M274.8 444.2 275.2 444.2 276.5 443.9M280.5 444.2 280.9 444.2 282.2 443.9M286.2 444.2 286.6 444.2 287.9 443.9M291.9 444.2 292.3 444.2 293.6 443.9M297.6 444.2 298.0 444.2 299.3 443.9M303.3 444.2 303.7 444.2 305.0 443.9M309.0 444.2 309.4 444.2 310.7 443.9M314.7 444.2 315.1 444.2 316.4 443.9M320.4 444.2 320.8 444.2 322.1 443.9M326.1 444.2 326.6 444.2 327.8 443.9M331.8 444.2 332.3 444.2 333.5 443.9M337.5 444.2 338.0 444.2 339.2 443.9M343.2 444.2 343.7 444.2 344.9 443.9M348.9 444.2 349.4 444.2 350.6 443.9M354.6 444.2 355.1 444.2 356.3 443.9M360.3 444.2 360.8 444.2 362.0 443.9 362.6 443.9 363.1 443.6 363.6 442.9 364.0 443.6 364.4 443.8 364.9 444.0 365.4 444.1 366.0 444.2 366.5 444.2 367.7 443.9 368.3 442.0 368.8 437.9 369.3 433.7 369.7 438.4 370.1 440.2 370.6 443.0 371.1 443.7 371.7 444.2 372.2 444.2 373.4 443.9M377.4 444.2 377.9 444.2 379.1 443.9M383.1 444.2 383.6 444.2 384.8 443.9M388.8 444.2 389.3 444.2 390.5 443.9M394.5 444.2 395.0 444.2" stroke="#3C78D8" stroke-width="0.8" fill="none" stroke-linejoin="round"/>
<path d="M190.9 443.9 191.5 442.4 192.0 440.3 192.5 436.0 192.9 440.2 193.3 441.0 193.8 442.8 194.4 443.7 194.9 444.2M196.6 443.9 197.2 443.1 197.7 440.2 198.2 436.9 198.6 441.1 199.0 441.1 199.5 443.2 200.1 443.8 200.6 444.2M202.3 443.9 202.9 443.7 203.4 442.5 203.9 441.5 204.3 442.6 204.7 443.1 205.2 443.7 205.8 444.1 206.3 444.2M208.0 443.9 208.6 442.4 209.1 438.7 209.6 436.0 210.0 439.5 210.4 441.4 210.9 442.8 211.5 443.7 212.0 444.2M213.7 443.9 214.3 442.3 214.8 439.1 215.3 434.6 215.7 439.5 216.1 440.1 216.6 443.0 217.2 443.6 217.7 444.2M219.4 443.9 220.0 443.1 220.5 440.9 221.0 437.4 221.4 440.4 221.8 441.6 222.3 443.3 222.9 443.9 223.4 444.2M225.2 443.9 225.7 443.8 226.2 442.9 226.7 442.0 227.1 443.2 227.5 443.5 228.0 443.9 228.6 444.1 229.1 444.2M230.9 443.9 231.4 443.5 231.9 442.6 232.4 441.5 232.8 443.0 233.2 443.3 233.7 443.8 234.3 444.1 234.8 444.2M236.6 443.9 237.1 443.6 237.6 442.1 238.1 440.6 238.5 442.4 238.9 442.9 239.4 443.5 240.0 444.0 240.5 444.2M242.3 443.9 242.8 443.0 243.3 441.4 243.8 437.4 244.2 441.6 244.6 441.6 245.1 443.0 245.7 443.8 246.3 444.2M248.0 443.9 248.5 443.0 249.0 441.4 249.5 437.4 249.9 440.9 250.3 442.3 250.8 443.4 251.4 443.8 252.0 444.2M253.7 443.9 254.2 443.2 254.7 441.0 255.2 438.3 255.6 440.7 256.0 442.2 256.5 443.4 257.1 443.9 257.7 444.2M259.4 443.9 259.9 442.6 260.5 441.1 260.9 437.4 261.3 440.5 261.7 442.1 262.2 443.1 262.8 443.9 263.4 444.2M265.1 443.9 265.6 442.2 266.2 438.2 266.6 431.4 267.0 437.1 267.4 440.3 267.9 442.1 268.5 443.6 269.1 444.2M270.8 443.9 271.3 442.6 271.9 439.7 272.3 437.4 272.7 440.4 273.1 442.2 273.6 443.4 274.2 443.9 274.8 444.2M276.5 443.9 277.0 443.6 277.6 442.7 278.0 440.6 278.4 442.2 278.8 442.7 279.3 443.6 279.9 444.0 280.5 444.2M282.2 443.9 282.8 443.6 283.3 442.7 283.7 441.5 284.1 442.5 284.5 443.3 285.0 443.7 285.6 444.1 286.2 444.2M287.9 443.9 288.5 443.3 289.0 442.1 289.4 440.6 289.8 442.0 290.2 442.7 290.7 443.6 291.3 444.0 291.9 444.2M293.6 443.9 294.2 443.2 294.7 441.4 295.1 438.3 295.5 441.9 295.9 442.0 296.4 443.4 297.0 444.0 297.6 444.2M299.3 443.9 299.9 442.4 300.4 439.0 300.8 435.4 301.2 440.7 301.6 441.5 302.1 442.6 302.7 443.7 303.3 444.2M305.0 443.9 305.6 443.4 306.1 442.5 306.5 440.6 306.9 442.8 307.3 442.8 307.8 443.6 308.4 444.0 309.0 444.2M310.7 443.9 311.3 443.3 311.8 440.8 312.2 438.3 312.6 440.7 313.0 442.2 313.5 443.3 314.1 444.0 314.7 444.2M316.4 443.9 317.0 442.9 317.5 441.0 317.9 437.4 318.3 441.5 318.7 441.3 319.3 443.3 319.8 443.9 320.4 444.2M322.1 443.9 322.7 443.3 323.2 442.1 323.6 439.7 324.0 441.6 324.4 442.9 325.0 443.6 325.5 444.0 326.1 444.2M327.8 443.9 328.4 443.8 328.9 442.5 329.3 441.5 329.7 442.8 330.1 443.2 330.7 443.7 331.2 444.1 331.8 444.2M333.5 443.9 334.1 440.9 334.6 437.1 335.0 429.9 335.4 435.7 335.8 438.0 336.4 442.2 336.9 443.4 337.5 444.2M339.2 443.9 339.8 442.0 340.3 439.1 340.8 432.5 341.1 438.6 341.5 439.9 342.1 442.4 342.6 443.6 343.2 444.2M344.9 443.9 345.5 442.5 346.0 438.1 346.5 433.7 346.9 438.4 347.3 440.3 347.8 442.8 348.3 443.6 348.9 444.2M350.6 443.9 351.2 443.4 351.7 442.4 352.2 440.6 352.6 442.6 353.0 443.0 353.5 443.6 354.0 444.0 354.6 444.2M356.3 443.9 356.9 443.7 357.4 443.3 357.9 442.0 358.3 443.2 358.7 443.4 359.2 443.8 359.7 444.1 360.3 444.2M373.4 443.9 374.0 443.3 374.5 442.1 375.0 439.7 375.4 442.3 375.8 442.4 376.3 443.7 376.9 444.0 377.4 444.2M379.1 443.9 379.7 441.9 380.2 437.9 380.7 434.6 381.1 439.6 381.5 441.0 382.0 442.5 382.6 443.7 383.1 444.2M384.8 443.9 385.4 442.8 385.9 440.4 386.4 436.9 386.8 440.3 387.2 441.7 387.7 443.2 388.3 443.7 388.8 444.2M390.5 443.9 391.1 443.6 391.6 442.8 392.1 441.5 392.5 442.7 392.9 443.4 393.4 443.8 394.0 444.1 394.5 444.2" stroke="#000000" stroke-width="0.8" fill="none" stroke-linejoin="round"/>
<path d="M33.80 445.50H36.00" stroke="#333" stroke-width="0.55"/>
<text x="32.40" y="448.10" text-anchor="end" class="t">0</text>
<path d="M33.80 431.10H36.00" stroke="#333" stroke-width="0.55"/>
<text x="32.40" y="433.70" text-anchor="end" class="t">25</text>
<path d="M33.80 416.70H36.00" stroke="#333" stroke-width="0.55"/>
<text x="32.40" y="419.30" text-anchor="end" class="t">50</text>
<text transform="translate(10.8 431.80) rotate(-90)" text-anchor="middle" class="s">07AF015</text>
<path d="M41.40 449.50V486.50M98.43 449.50V486.50M155.46 449.50V486.50M212.49 449.50V486.50M269.52 449.50V486.50M326.55 449.50V486.50M383.58 449.50V486.50M36.00 482.50H401.00M36.00 468.10H401.00M36.00 453.70H401.00" stroke="#D6D6D6" stroke-width="0.9" fill="none"/>
<path d="M178.3 481.6 179.5 481.4 180.1 480.8 180.6 479.5 181.1 477.9 181.5 479.6 181.9 480.5 182.4 481.2 182.9 481.4 183.5 481.6 184.0 481.6 185.2 481.4 185.8 480.4 186.3 479.4 186.8 476.5 187.2 479.6 187.6 479.4 188.1 481.0 188.7 481.4 189.2 481.6 189.7 481.6 190.9 481.4 191.5 478.9 192.0 474.9 192.5 468.1 192.9 474.2 193.3 477.0 193.8 479.3 194.4 481.1 194.9 481.6 195.4 481.6 196.6 481.4 197.2 480.0 197.7 477.1 198.2 471.8 198.6 476.0 199.0 477.4 199.5 480.3 200.1 481.2 200.6 481.6 201.1 481.6 202.3 481.4 202.9 481.0 203.4 479.9 203.9 477.9 204.3 479.3 204.7 480.0 205.2 481.0 205.8 481.5 206.3 481.6 206.8 481.6 208.0 481.4 208.6 480.1 209.1 474.9 209.6 471.8 210.0 476.2 210.4 477.6 210.9 479.9 211.5 481.1 212.0 481.6 212.5 481.6 213.7 481.4 214.3 479.6 214.8 472.8 215.3 468.1 215.7 474.6 216.1 475.8 216.6 479.9 217.2 481.0 217.7 481.6 218.2 481.6 219.4 481.4 220.0 479.8 220.5 474.6 221.0 470.4 221.4 475.8 221.8 477.0 222.3 479.9 222.9 481.0 223.4 481.6 223.9 481.6 225.2 481.4 225.7 480.9 226.2 480.0 226.7 477.9 227.1 480.2 227.5 480.6 228.0 481.2 228.6 481.4 229.1 481.6 229.6 481.6 230.9 481.4 231.4 480.6 231.9 478.5 232.4 477.0 232.8 479.0 233.2 480.3 233.7 481.1 234.3 481.4 234.8 481.6 235.3 481.6 236.6 481.4 237.1 480.8 237.6 479.6 238.1 477.0 238.5 479.0 238.9 479.8 239.4 481.0 240.0 481.4 240.5 481.6 241.0 481.6 242.3 481.4 242.8 479.8 243.3 476.6 243.8 472.7 244.2 476.9 244.6 478.3 245.1 480.0 245.7 481.2 246.3 481.6 246.7 481.6 248.0 481.4 248.5 480.3 249.0 477.9 249.5 473.3 249.9 477.2 250.3 478.7 250.8 480.1 251.4 481.2 252.0 481.6 252.4 481.6 253.7 481.4 254.2 479.6 254.7 476.3 255.2 473.3 255.6 477.8 256.0 479.1 256.5 480.3 257.1 481.2 257.7 481.6 258.1 481.6 259.4 481.4 259.9 480.3 260.5 478.1 260.9 473.3 261.3 476.8 261.7 478.0 262.2 480.2 262.8 481.3 263.4 481.6 263.8 481.6 265.1 481.4 265.6 479.7 266.2 474.1 266.6 468.7 267.0 475.5 267.4 476.1 267.9 479.7 268.5 480.9 269.1 481.6 269.5 481.6 270.8 481.4 271.3 480.5 271.9 478.5 272.3 474.1 272.7 477.4 273.1 478.9 273.6 480.3 274.2 481.3 274.8 481.6 275.2 481.6 276.5 481.4 277.0 480.7 277.6 479.1 278.0 477.0 278.4 479.0 278.8 479.9 279.3 480.8 279.9 481.4 280.5 481.6 280.9 481.6 282.2 481.4 282.8 480.5 283.3 479.0 283.7 476.5 284.1 478.7 284.5 479.9 285.0 481.0 285.6 481.4 286.2 481.6 286.6 481.6 287.9 481.4 288.5 480.6 289.0 479.3 289.4 476.5 289.8 478.7 290.2 479.5 290.7 480.9 291.3 481.3 291.9 481.6 292.3 481.6 293.6 481.4 294.2 480.0 294.7 477.4 295.1 474.1 295.5 478.7 295.9 478.4 296.4 480.6 297.0 481.3 297.6 481.6 298.0 481.6 299.3 481.4 299.9 479.1 300.4 474.0 300.8 470.4 301.2 475.2 301.6 477.4 302.1 480.1 302.7 480.9 303.3 481.6 303.7 481.6 305.0 481.4 305.6 481.1 306.1 479.9 306.5 478.8 306.9 480.0 307.3 480.7 307.8 481.1 308.4 481.5 309.0 481.6 309.4 481.6 310.7 481.4 311.3 480.0 311.8 478.1 312.2 474.1 312.6 478.4 313.0 479.0 313.5 480.7 314.1 481.2 314.7 481.6 315.1 481.6 316.4 481.4 317.0 480.1 317.5 477.2 317.9 472.7 318.3 476.3 318.7 477.9 319.3 480.0 319.8 481.1 320.4 481.6 320.8 481.6 322.1 481.4 322.7 480.8 323.2 479.3 323.6 477.0 324.0 479.0 324.4 480.0 325.0 480.8 325.5 481.4 326.1 481.6 326.6 481.6 327.8 481.4 328.4 480.7 328.9 479.5 329.3 477.0 329.7 478.9 330.1 479.8 330.7 480.9 331.2 481.4 331.8 481.6 332.3 481.6 333.5 481.4 334.1 479.0 334.6 475.0 335.0 469.5 335.4 476.2 335.8 477.6 336.4 479.5 336.9 480.9 337.5 481.6 338.0 481.6 339.2 481.4 339.8 478.5 340.3 473.0 340.8 468.7 341.1 475.2 341.5 477.5 342.1 479.3 342.6 481.1 343.2 481.6 343.7 481.6 344.9 481.4 345.5 479.9 346.0 478.5 346.5 474.1 346.9 477.6 347.3 479.6 347.8 480.6 348.3 481.3 348.9 481.6 349.4 481.6 350.6 481.4 351.2 480.7 351.7 479.2 352.2 477.0 352.6 478.9 353.0 480.1 353.5 480.8 354.0 481.4 354.6 481.6 355.1 481.6 356.3 481.4 356.9 481.3 357.4 480.9 357.9 480.2 358.3 480.8 358.7 481.2 359.2 481.4 359.7 481.5 360.3 481.6 360.8 481.6 362.0 481.4 362.6 480.9 363.1 479.9 363.6 477.9 364.0 479.9 364.4 480.4 364.9 481.0 365.4 481.4 366.0 481.6 366.5 481.6 367.7 481.4 368.3 478.3 368.8 473.6 369.3 468.1 369.7 473.2 370.1 477.7 370.6 479.7 371.1 481.1 371.7 481.6 372.2 481.6 373.4 481.4 374.0 480.0 374.5 477.0 375.0 473.3 375.4 476.7 375.8 478.5 376.3 480.3 376.9 481.2 377.4 481.6 377.9 481.6 379.1 481.4 379.7 478.4 380.2 472.9 380.7 468.1 381.1 475.5 381.5 476.9 382.0 479.8 382.6 481.1 383.1 481.6 383.6 481.6 384.8 481.4 385.4 479.9 385.9 476.8 386.4 471.8 386.8 475.8 387.2 477.4 387.7 480.4 388.3 481.2 388.8 481.6 389.3 481.6 390.5 481.4 391.1 481.0 391.6 480.4 392.1 478.8 392.5 480.2 392.9 480.7 393.4 481.2 394.0 481.5 394.5 481.6 395.0 481.6" stroke="#3C78D8" stroke-width="0.8" fill="none" stroke-linejoin="round"/>
<path d="M41.4 481.6 42.7 481.4 43.2 480.2 43.7 477.2 44.2 474.1 44.6 477.7 45.0 478.8 45.5 480.3 46.1 481.2 46.6 481.6 47.1 481.6 48.4 481.4 48.9 481.2 49.4 480.3 49.9 478.8 50.3 480.2 50.7 480.7 51.2 481.1 51.8 481.5 52.3 481.6 52.8 481.6 54.1 481.4 54.6 480.6 55.1 478.8 55.6 476.2 56.0 479.3 56.4 479.6 56.9 480.6 57.5 481.4 58.1 481.6 58.5 481.6 59.8 481.4 60.3 480.6 60.8 479.0 61.3 476.5 61.7 478.9 62.1 480.0 62.6 481.0 63.2 481.4 63.8 481.6 64.2 481.6 65.5 481.4 66.0 480.3 66.6 477.2 67.0 474.1 67.4 477.1 67.8 478.9 68.3 480.3 68.9 481.2 69.5 481.6 69.9 481.6 71.2 481.4 71.7 479.4 72.3 474.7 72.7 467.2 73.1 473.9 73.5 476.7 74.0 480.0 74.6 480.8 75.2 481.6 75.6 481.6 76.9 481.4 77.4 479.8 78.0 477.2 78.4 473.3 78.8 477.4 79.2 479.2 79.7 480.4 80.3 481.3 80.9 481.6 81.3 481.6 82.6 481.4 83.1 480.2 83.7 477.2 84.1 475.0 84.5 478.8 84.9 479.6 85.4 480.6 86.0 481.2 86.6 481.6 87.0 481.6 88.3 481.4 88.8 480.8 89.4 478.9 89.8 476.5 90.2 478.9 90.6 480.1 91.1 481.0 91.7 481.3 92.3 481.6 92.7 481.6 94.0 481.4 94.6 479.6 95.1 476.0 95.5 471.8 95.9 476.6 96.3 478.9 96.8 480.2 97.4 481.1 98.0 481.6 98.4 481.6 99.7 481.4 100.3 480.9 100.8 479.9 101.2 477.9 101.6 480.2 102.0 480.3 102.5 481.0 103.1 481.4 103.7 481.6 104.1 481.6 105.4 481.4 106.0 478.5 106.5 475.0 106.9 468.7 107.3 475.5 107.7 477.5 108.2 479.7 108.8 480.9 109.4 481.6 109.8 481.6 111.1 481.4 111.7 478.6 112.2 476.0 112.6 468.7 113.0 474.9 113.4 476.5 113.9 479.4 114.5 481.0 115.1 481.6 115.5 481.6 116.8 481.4 117.4 480.3 117.9 477.5 118.3 473.3 118.7 477.3 119.1 478.3 119.6 480.6 120.2 481.3 120.8 481.6 121.2 481.6 122.5 481.4 123.1 479.8 123.6 477.5 124.0 471.8 124.4 475.6 124.8 478.5 125.3 480.2 125.9 481.0 126.5 481.6 126.9 481.6 128.2 481.4 128.8 481.1 129.3 480.5 129.7 479.3 130.1 480.2 130.5 480.7 131.1 481.3 131.6 481.5 132.2 481.6 132.6 481.6 133.9 481.4 134.5 480.8 135.0 479.1 135.4 477.9 135.8 479.6 136.2 480.4 136.8 481.0 137.3 481.4 137.9 481.6 138.4 481.6 139.6 481.4 140.2 478.7 140.7 473.9 141.1 469.5 141.5 475.0 141.9 476.6 142.5 479.9 143.0 481.0 143.6 481.6 144.1 481.6 145.3 481.4 145.9 479.6 146.4 476.9 146.8 472.7 147.2 478.0 147.6 478.0 148.2 480.3 148.7 481.2 149.3 481.6 149.8 481.6 151.0 481.4 151.6 481.2 152.1 480.5 152.6 479.3 153.0 480.3 153.3 480.9 153.9 481.3 154.4 481.5 155.0 481.6 155.5 481.6 156.7 481.4 157.3 476.7 157.8 469.1 158.3 456.6 158.7 471.7 159.1 473.1 159.6 478.0 160.1 480.4 160.7 481.6 161.2 481.6 162.4 481.4 163.0 480.6 163.5 479.4 164.0 477.0 164.4 479.8 164.8 480.4 165.3 480.9 165.8 481.4 166.4 481.6 166.9 481.6 168.1 481.4 168.7 478.1 169.2 471.1 169.7 465.8 170.1 475.1 170.5 476.9 171.0 479.0 171.5 480.9 172.1 481.6 172.6 481.6 173.8 481.4 174.4 480.8 174.9 478.7 175.4 477.0 175.8 479.8 176.2 479.7 176.7 481.1 177.2 481.4 177.8 481.6 178.3 481.6" stroke="#000000" stroke-width="0.8" fill="none" stroke-linejoin="round"/>
<path d="M33.80 482.50H36.00" stroke="#333" stroke-width="0.55"/>
<text x="32.40" y="485.10" text-anchor="end" class="t">0</text>
<path d="M33.80 468.10H36.00" stroke="#333" stroke-width="0.55"/>
<text x="32.40" y="470.70" text-anchor="end" class="t">225</text>
<path d="M33.80 453.70H36.00" stroke="#333" stroke-width="0.55"/>
<text x="32.40" y="456.30" text-anchor="end" class="t">450</text>
<text transform="translate(10.8 468.80) rotate(-90)" text-anchor="middle" class="s">07AG001</text>
<path d="M41.40 486.50V523.50M98.43 486.50V523.50M155.46 486.50V523.50M212.49 486.50V523.50M269.52 486.50V523.50M326.55 486.50V523.50M383.58 486.50V523.50M36.00 519.50H401.00M36.00 505.10H401.00M36.00 490.70H401.00" stroke="#D6D6D6" stroke-width="0.9" fill="none"/>
<path d="M309.4 518.6 310.7 518.4M314.7 518.6 315.1 518.6 316.4 518.4M320.4 518.6 320.8 518.6 322.1 518.4M326.1 518.6 326.6 518.6 327.8 518.4M331.8 518.6 332.3 518.6 333.5 518.4M337.5 518.6 338.0 518.6 339.2 518.4 339.8 518.0 340.3 516.4 340.8 514.6 341.1 517.1 341.5 517.4 342.1 518.1 342.6 518.5 343.2 518.6 343.7 518.6 344.9 518.4M348.9 518.6 349.4 518.6 350.6 518.4M354.6 518.6 355.1 518.6 356.3 518.4M360.3 518.6 360.8 518.6 362.0 518.4 362.6 518.3 363.1 517.5 363.6 516.9 364.0 517.9 364.4 518.1 364.9 518.4 365.4 518.6 366.0 518.6 366.5 518.6 367.7 518.4 368.3 517.4 368.8 516.3 369.3 513.2 369.7 516.1 370.1 517.2 370.6 517.9 371.1 518.3 371.7 518.6 372.2 518.6 373.4 518.4M377.4 518.6 377.9 518.6 379.1 518.4M383.1 518.6 383.6 518.6 384.8 518.4M388.8 518.6 389.3 518.6 390.5 518.4 391.1 518.6 391.6 518.5 392.1 518.3 392.5 518.5 392.9 518.5 393.4 518.6 394.0 518.6 394.5 518.6 395.0 518.6" stroke="#3C78D8" stroke-width="0.8" fill="none" stroke-linejoin="round"/>
<path d="M41.4 518.6 42.7 518.4 43.2 518.2 43.7 516.9 44.2 516.0 44.6 517.2 45.0 517.9 45.5 518.2 46.1 518.5 46.6 518.6 47.1 518.6 48.4 518.4 48.9 518.4 49.4 518.1 49.9 517.8 50.3 518.2 50.7 518.3 51.2 518.5 51.8 518.6 52.3 518.6 52.8 518.6 54.1 518.4 54.6 518.3 55.1 517.7 55.6 516.9 56.0 517.8 56.4 517.9 56.9 518.3 57.5 518.6 58.1 518.6 58.5 518.6 59.8 518.4 60.3 518.2 60.8 516.9 61.3 516.0 61.7 517.2 62.1 517.7 62.6 518.2 63.2 518.5 63.8 518.6 64.2 518.6 65.5 518.4 66.0 518.2 66.6 517.1 67.0 515.8 67.4 517.4 67.8 517.8 68.3 518.2 68.9 518.5 69.5 518.6 69.9 518.6 71.2 518.4 71.7 517.7 72.3 515.3 72.7 513.2 73.1 515.4 73.5 516.9 74.0 517.7 74.6 518.3 75.2 518.6 75.6 518.6 76.9 518.4 77.4 518.2 78.0 516.9 78.4 516.0 78.8 517.6 79.2 517.7 79.7 518.3 80.3 518.5 80.9 518.6 81.3 518.6 82.6 518.4 83.1 518.3 83.7 517.5 84.1 516.9 84.5 517.9 84.9 518.1 85.4 518.4 86.0 518.5 86.6 518.6 87.0 518.6 88.3 518.4 88.8 518.5 89.4 518.1 89.8 517.8 90.2 518.3 90.6 518.3 91.1 518.5 91.7 518.6 92.3 518.6 92.7 518.6 94.0 518.4 94.6 518.0 95.1 517.4 95.5 516.0 95.9 517.5 96.3 517.7 96.8 518.2 97.4 518.5 98.0 518.6 98.4 518.6 99.7 518.4 100.3 518.2 100.8 517.6 101.2 516.9 101.6 517.8 102.0 517.9 102.5 518.4 103.1 518.5 103.7 518.6 104.1 518.6 105.4 518.4 106.0 517.0 106.5 514.7 106.9 511.4 107.3 514.8 107.7 516.5 108.2 517.7 108.8 518.2 109.4 518.6 109.8 518.6 111.1 518.4 111.7 516.9 112.2 515.4 112.6 510.9 113.0 515.3 113.4 516.0 113.9 517.4 114.5 518.3 115.1 518.6 115.5 518.6 116.8 518.4 117.4 518.0 117.9 516.5 118.3 515.5 118.7 517.1 119.1 517.6 119.6 518.1 120.2 518.5 120.8 518.6 121.2 518.6 122.5 518.4 123.1 517.5 123.6 516.1 124.0 513.2 124.4 515.4 124.8 516.4 125.3 517.9 125.9 518.3 126.5 518.6 126.9 518.6 128.2 518.4 128.8 518.5 129.3 518.1 129.7 517.8 130.1 518.2 130.5 518.4 131.1 518.5 131.6 518.6 132.2 518.6 132.6 518.6 133.9 518.4 134.5 518.3 135.0 517.5 135.4 516.9 135.8 517.9 136.2 518.0 136.8 518.3 137.3 518.6 137.9 518.6 138.4 518.6 139.6 518.4 140.2 516.9 140.7 514.4 141.1 511.4 141.5 514.2 141.9 516.0 142.5 517.3 143.0 518.3 143.6 518.6 144.1 518.6 145.3 518.4 145.9 517.9 146.4 516.6 146.8 514.6 147.2 516.6 147.6 517.1 148.2 518.0 148.7 518.4 149.3 518.6 149.8 518.6 151.0 518.4 151.6 518.3 152.1 517.7 152.6 516.9 153.0 517.7 153.3 518.0 153.9 518.4 154.4 518.6 155.0 518.6 155.5 518.6 156.7 518.4 157.3 516.4 157.8 513.1 158.3 508.6 158.7 514.1 159.1 515.0 159.6 517.5 160.1 518.1 160.7 518.6 161.2 518.6 162.4 518.4 163.0 518.0 163.5 517.3 164.0 516.0 164.4 517.6 164.8 517.6 165.3 518.2 165.8 518.5 166.4 518.6 166.9 518.6 168.1 518.4 168.7 516.7 169.2 514.1 169.7 507.7 170.1 514.3 170.5 514.2 171.0 517.1 171.5 518.0 172.1 518.6 172.6 518.6 173.8 518.4 174.4 518.0 174.9 517.0 175.4 516.0 175.8 517.4 176.2 517.9 176.7 518.2 177.2 518.5 177.8 518.6 178.3 518.6 179.5 518.4 180.1 518.4 180.6 517.7 181.1 516.9 181.5 517.9 181.9 518.1 182.4 518.4 182.9 518.6 183.5 518.6 184.0 518.6 185.2 518.4 185.8 518.2 186.3 516.9 186.8 516.0 187.2 517.6 187.6 517.8 188.1 518.2 188.7 518.5 189.2 518.6 189.7 518.6 190.9 518.4 191.5 515.2 192.0 508.7 192.5 503.9 192.9 510.9 193.3 513.7 193.8 516.3 194.4 518.0 194.9 518.6 195.4 518.6 196.6 518.4 197.2 518.5 197.7 518.2 198.2 517.8 198.6 518.2 199.0 518.4 199.5 518.5 200.1 518.6 200.6 518.6 201.1 518.6 202.3 518.4 202.9 518.6 203.4 518.4 203.9 518.3 204.3 518.5 204.7 518.5 205.2 518.6 205.8 518.6 206.3 518.6 206.8 518.6 208.0 518.4 208.6 517.8 209.1 515.1 209.6 513.2 210.0 515.7 210.4 516.7 210.9 517.7 211.5 518.4 212.0 518.6 212.5 518.6 213.7 518.4 214.3 517.4 214.8 514.3 215.3 512.3 215.7 516.1 216.1 516.2 216.6 517.7 217.2 518.4 217.7 518.6 218.2 518.6 219.4 518.4 220.0 518.3 220.5 517.6 221.0 516.9 221.4 518.0 221.8 517.9 222.3 518.4 222.9 518.6 223.4 518.6 223.9 518.6 225.2 518.4 225.7 518.3 226.2 517.7 226.7 516.9 227.1 517.8 227.5 518.1 228.0 518.4 228.6 518.6 229.1 518.6 229.6 518.6 230.9 518.4 231.4 518.4 231.9 518.1 232.4 517.8 232.8 518.2 233.2 518.4 233.7 518.5 234.3 518.6 234.8 518.6 235.3 518.6 236.6 518.4 237.1 518.1 237.6 516.9 238.1 516.0 238.5 517.1 238.9 517.6 239.4 518.2 240.0 518.5 240.5 518.6 241.0 518.6 242.3 518.4 242.8 517.8 243.3 516.8 243.8 514.6 244.2 516.6 244.6 517.1 245.1 518.0 245.7 518.4 246.3 518.6 246.7 518.6 248.0 518.4 248.5 518.0 249.0 516.8 249.5 515.5 249.9 517.0 250.3 517.5 250.8 518.2 251.4 518.5 252.0 518.6 252.4 518.6 253.7 518.4 254.2 518.2 254.7 516.8 255.2 515.5 255.6 517.3 256.0 517.4 256.5 518.3 257.1 518.5 257.7 518.6 258.1 518.6 259.4 518.4 259.9 518.2 260.5 517.2 260.9 516.0 261.3 517.1 261.7 517.6 262.2 518.2 262.8 518.5 263.4 518.6 263.8 518.6 265.1 518.4 265.6 517.7 266.2 515.9 266.6 514.6 267.0 516.2 267.4 517.4 267.9 518.1 268.5 518.5 269.1 518.6 269.5 518.6 270.8 518.4 271.3 518.1 271.9 517.4 272.3 516.0 272.7 517.0 273.1 517.7 273.6 518.2 274.2 518.5 274.8 518.6 275.2 518.6 276.5 518.4 277.0 518.2 277.6 516.9 278.0 515.5 278.4 516.8 278.8 517.6 279.3 518.0 279.9 518.5 280.5 518.6 280.9 518.6 282.2 518.4 282.8 518.0 283.3 516.9 283.7 516.0 284.1 517.2 284.5 517.7 285.0 518.2 285.6 518.5 286.2 518.6 286.6 518.6 287.9 518.4 288.5 518.2 289.0 517.1 289.4 516.0 289.8 517.2 290.2 517.8 290.7 518.3 291.3 518.5 291.9 518.6 292.3 518.6 293.6 518.4 294.2 518.2 294.7 517.0 295.1 516.0 295.5 517.4 295.9 517.6 296.4 518.2 297.0 518.5 297.6 518.6 298.0 518.6 299.3 518.4 299.9 518.2 300.4 516.5 300.8 515.5 301.2 517.3 301.6 517.7 302.1 518.2 302.7 518.5 303.3 518.6 303.7 518.6 305.0 518.4 305.6 518.3 306.1 517.5 306.5 516.9 306.9 517.6 307.3 518.2 307.8 518.4 308.4 518.6 309.0 518.6 309.4 518.6M310.7 518.4 311.3 517.7 311.8 516.2 312.2 514.6 312.6 516.2 313.0 517.2 313.5 518.1 314.1 518.4 314.7 518.6M316.4 518.4 317.0 518.0 317.5 517.1 317.9 516.0 318.3 517.3 318.7 517.7 319.3 518.2 319.8 518.5 320.4 518.6M322.1 518.4 322.7 518.3 323.2 517.8 323.6 516.9 324.0 517.8 324.4 518.0 325.0 518.4 325.5 518.5 326.1 518.6M327.8 518.4 328.4 518.3 328.9 517.5 329.3 516.9 329.7 517.8 330.1 518.0 330.7 518.3 331.2 518.5 331.8 518.6M333.5 518.4 334.1 517.2 334.6 515.1 335.0 512.3 335.4 516.1 335.8 516.9 336.4 517.7 336.9 518.3 337.5 518.6M344.9 518.4 345.5 518.0 346.0 516.8 346.5 514.6 346.9 516.3 347.3 517.4 347.8 518.0 348.3 518.5 348.9 518.6M350.6 518.4 351.2 518.2 351.7 517.4 352.2 516.0 352.6 517.6 353.0 517.9 353.5 518.3 354.0 518.5 354.6 518.6M356.3 518.4 356.9 518.3 357.4 517.5 357.9 516.9 358.3 517.9 358.7 518.1 359.2 518.4 359.7 518.5 360.3 518.6M373.4 518.4 374.0 517.9 374.5 517.2 375.0 515.5 375.4 516.8 375.8 517.3 376.3 518.2 376.9 518.5 377.4 518.6M379.1 518.4 379.7 515.9 380.2 513.4 380.7 507.1 381.1 513.8 381.5 514.5 382.0 516.9 382.6 518.1 383.1 518.6M384.8 518.4 385.4 515.9 385.9 511.8 386.4 507.7 386.8 514.5 387.2 514.3 387.7 517.2 388.3 518.2 388.8 518.6" stroke="#000000" stroke-width="0.8" fill="none" stroke-linejoin="round"/>
<path d="M33.80 519.50H36.00" stroke="#333" stroke-width="0.55"/>
<text x="32.40" y="522.10" text-anchor="end" class="t">0</text>
<path d="M33.80 505.10H36.00" stroke="#333" stroke-width="0.55"/>
<text x="32.40" y="507.70" text-anchor="end" class="t">50</text>
<path d="M33.80 490.70H36.00" stroke="#333" stroke-width="0.55"/>
<text x="32.40" y="493.30" text-anchor="end" class="t">100</text>
<text transform="translate(10.8 505.80) rotate(-90)" text-anchor="middle" class="s">07AG003</text>
<rect x="36.00" y="5.50" width="365.00" height="37.00" fill="none" stroke="#444" stroke-width="1.0"/>
<rect x="36.00" y="42.50" width="365.00" height="37.00" fill="none" stroke="#444" stroke-width="1.0"/>
<rect x="36.00" y="79.50" width="365.00" height="37.00" fill="none" stroke="#444" stroke-width="1.0"/>
<rect x="36.00" y="116.50" width="365.00" height="37.00" fill="none" stroke="#444" stroke-width="1.0"/>
<rect x="36.00" y="153.50" width="365.00" height="37.00" fill="none" stroke="#444" stroke-width="1.0"/>
<rect x="36.00" y="190.50" width="365.00" height="37.00" fill="none" stroke="#444" stroke-width="1.0"/>
<rect x="36.00" y="227.50" width="365.00" height="37.00" fill="none" stroke="#444" stroke-width="1.0"/>
<rect x="36.00" y="264.50" width="365.00" height="37.00" fill="none" stroke="#444" stroke-width="1.0"/>
<rect x="36.00" y="301.50" width="365.00" height="37.00" fill="none" stroke="#444" stroke-width="1.0"/>
<rect x="36.00" y="338.50" width="365.00" height="37.00" fill="none" stroke="#444" stroke-width="1.0"/>
<rect x="36.00" y="375.50" width="365.00" height="37.00" fill="none" stroke="#444" stroke-width="1.0"/>
<rect x="36.00" y="412.50" width="365.00" height="37.00" fill="none" stroke="#444" stroke-width="1.0"/>
<rect x="36.00" y="449.50" width="365.00" height="37.00" fill="none" stroke="#444" stroke-width="1.0"/>
<rect x="36.00" y="486.50" width="365.00" height="37.00" fill="none" stroke="#444" stroke-width="1.0"/>
<path d="M41.40 523.50V525.70" stroke="#333" stroke-width="0.55"/>
<text x="41.40" y="532.90" text-anchor="middle" class="t">1960</text>
<path d="M98.43 523.50V525.70" stroke="#333" stroke-width="0.55"/>
<text x="98.43" y="532.90" text-anchor="middle" class="t">1970</text>
<path d="M155.46 523.50V525.70" stroke="#333" stroke-width="0.55"/>
<text x="155.46" y="532.90" text-anchor="middle" class="t">1980</text>
<path d="M212.49 523.50V525.70" stroke="#333" stroke-width="0.55"/>
<text x="212.49" y="532.90" text-anchor="middle" class="t">1990</text>
<path d="M269.52 523.50V525.70" stroke="#333" stroke-width="0.55"/>
<text x="269.52" y="532.90" text-anchor="middle" class="t">2000</text>
<path d="M326.55 523.50V525.70" stroke="#333" stroke-width="0.55"/>
<text x="326.55" y="532.90" text-anchor="middle" class="t">2010</text>
<path d="M383.58 523.50V525.70" stroke="#333" stroke-width="0.55"/>
<text x="383.58" y="532.90" text-anchor="middle" class="t">2020</text>
<path d="M149.5 543.1H165" stroke="#000" stroke-width="0.96"/><text x="171.4" y="546.1" class="l">Measured</text><path d="M221.2 543.1H236.7" stroke="#3C78D8" stroke-width="0.96"/><text x="242.8" y="546.1" class="l">Extended</text>
</svg>
</body></html>
